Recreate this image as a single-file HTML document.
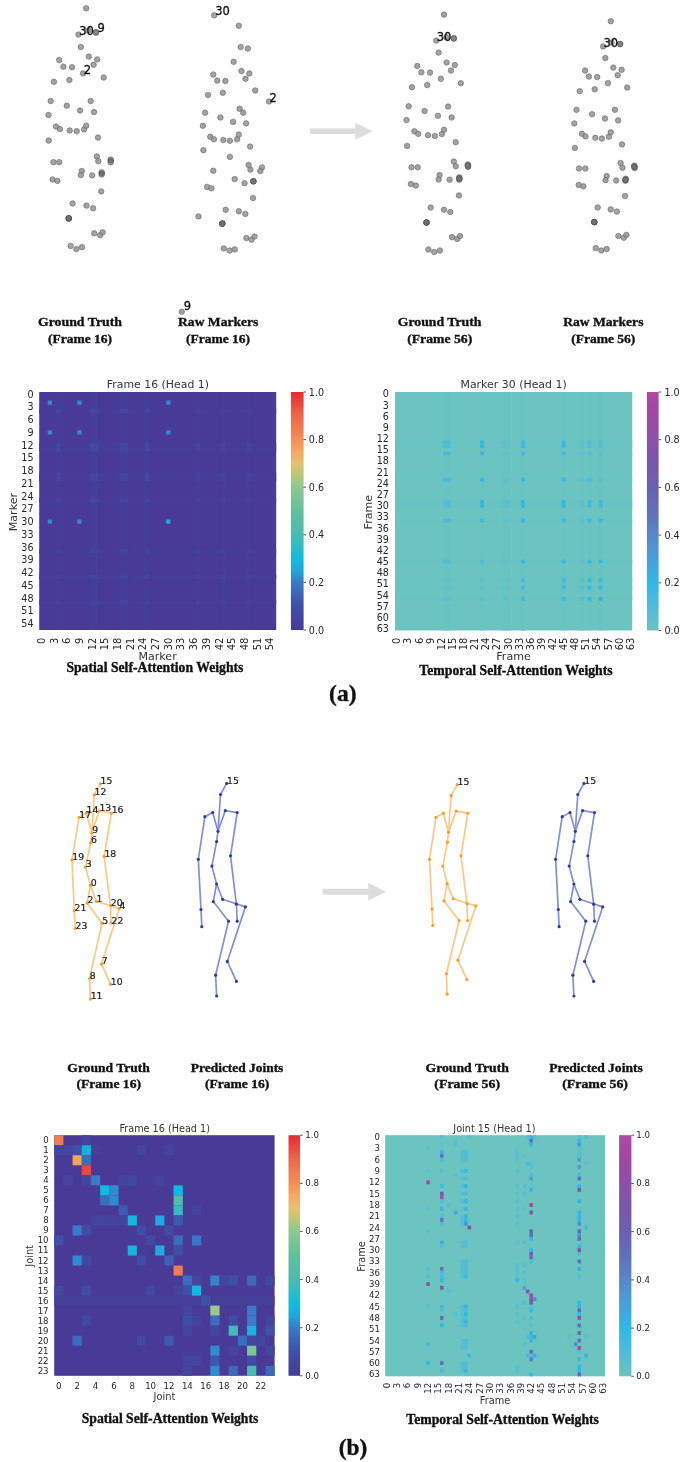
<!DOCTYPE html><html><head><meta charset="utf-8"><title>Figure</title><style>html,body{margin:0;padding:0;background:#fff;}svg{display:block;}</style></head><body>
<svg width="685" height="1462" viewBox="0 0 685 1462">
<defs><linearGradient id="g1" x1="0" y1="1" x2="0" y2="0"><stop offset="0" stop-color="#483a96"/><stop offset="0.1" stop-color="#3e50a8"/><stop offset="0.2" stop-color="#3a7ac6"/><stop offset="0.25" stop-color="#1fa8dc"/><stop offset="0.3" stop-color="#10bce0"/><stop offset="0.35" stop-color="#30bcc8"/><stop offset="0.4" stop-color="#48bcb0"/><stop offset="0.5" stop-color="#62c09e"/><stop offset="0.6" stop-color="#8cc890"/><stop offset="0.65" stop-color="#b8c878"/><stop offset="0.7" stop-color="#e6c070"/><stop offset="0.75" stop-color="#f4a860"/><stop offset="0.8" stop-color="#f29058"/><stop offset="0.9" stop-color="#ec6848"/><stop offset="1" stop-color="#e82a32"/></linearGradient><linearGradient id="g2" x1="0" y1="1" x2="0" y2="0"><stop offset="0" stop-color="#6cc4c0"/><stop offset="0.1" stop-color="#50bcd8"/><stop offset="0.2" stop-color="#30b8e8"/><stop offset="0.3" stop-color="#48a0d8"/><stop offset="0.4" stop-color="#5888c8"/><stop offset="0.5" stop-color="#6070b8"/><stop offset="0.6" stop-color="#6a60b0"/><stop offset="0.7" stop-color="#7858a8"/><stop offset="0.8" stop-color="#8c50a8"/><stop offset="0.9" stop-color="#a048a0"/><stop offset="1" stop-color="#b048a0"/></linearGradient></defs>
<rect width="685" height="1462" fill="#fff"/>
<circle cx="86.2" cy="8.3" r="2.75" fill="#939393" fill-opacity="0.85" stroke="#646464" stroke-opacity="0.75" stroke-width="0.8"/>
<circle cx="78.5" cy="34.6" r="2.75" fill="#939393" fill-opacity="0.85" stroke="#646464" stroke-opacity="0.75" stroke-width="0.8"/>
<circle cx="88.4" cy="30.6" r="2.75" fill="#939393" fill-opacity="0.85" stroke="#646464" stroke-opacity="0.75" stroke-width="0.8"/>
<circle cx="80.8" cy="47" r="2.75" fill="#939393" fill-opacity="0.85" stroke="#646464" stroke-opacity="0.75" stroke-width="0.8"/>
<circle cx="88.8" cy="56.6" r="2.75" fill="#939393" fill-opacity="0.85" stroke="#646464" stroke-opacity="0.75" stroke-width="0.8"/>
<circle cx="97.2" cy="59.4" r="2.75" fill="#939393" fill-opacity="0.85" stroke="#646464" stroke-opacity="0.75" stroke-width="0.8"/>
<circle cx="59.2" cy="60.1" r="2.75" fill="#939393" fill-opacity="0.85" stroke="#646464" stroke-opacity="0.75" stroke-width="0.8"/>
<circle cx="93.6" cy="64.8" r="2.75" fill="#939393" fill-opacity="0.85" stroke="#646464" stroke-opacity="0.75" stroke-width="0.8"/>
<circle cx="63.4" cy="66.7" r="2.75" fill="#939393" fill-opacity="0.85" stroke="#646464" stroke-opacity="0.75" stroke-width="0.8"/>
<circle cx="72" cy="67.2" r="2.75" fill="#939393" fill-opacity="0.85" stroke="#646464" stroke-opacity="0.75" stroke-width="0.8"/>
<circle cx="83" cy="73.4" r="2.75" fill="#939393" fill-opacity="0.85" stroke="#646464" stroke-opacity="0.75" stroke-width="0.8"/>
<circle cx="103.7" cy="77.5" r="2.75" fill="#939393" fill-opacity="0.85" stroke="#646464" stroke-opacity="0.75" stroke-width="0.8"/>
<circle cx="53.9" cy="81.8" r="2.75" fill="#939393" fill-opacity="0.85" stroke="#646464" stroke-opacity="0.75" stroke-width="0.8"/>
<circle cx="69.4" cy="80" r="2.75" fill="#939393" fill-opacity="0.85" stroke="#646464" stroke-opacity="0.75" stroke-width="0.8"/>
<circle cx="50.7" cy="101" r="2.75" fill="#939393" fill-opacity="0.85" stroke="#646464" stroke-opacity="0.75" stroke-width="0.8"/>
<circle cx="66.8" cy="105.7" r="2.75" fill="#939393" fill-opacity="0.85" stroke="#646464" stroke-opacity="0.75" stroke-width="0.8"/>
<circle cx="90.7" cy="101" r="2.75" fill="#939393" fill-opacity="0.85" stroke="#646464" stroke-opacity="0.75" stroke-width="0.8"/>
<circle cx="80.1" cy="110.5" r="2.75" fill="#939393" fill-opacity="0.85" stroke="#646464" stroke-opacity="0.75" stroke-width="0.8"/>
<circle cx="94" cy="112.1" r="2.75" fill="#939393" fill-opacity="0.85" stroke="#646464" stroke-opacity="0.75" stroke-width="0.8"/>
<circle cx="48.5" cy="115" r="2.75" fill="#939393" fill-opacity="0.85" stroke="#646464" stroke-opacity="0.75" stroke-width="0.8"/>
<circle cx="56" cy="126.5" r="2.75" fill="#939393" fill-opacity="0.85" stroke="#646464" stroke-opacity="0.75" stroke-width="0.8"/>
<circle cx="59.9" cy="129.1" r="2.75" fill="#939393" fill-opacity="0.85" stroke="#646464" stroke-opacity="0.75" stroke-width="0.8"/>
<circle cx="69.7" cy="130.5" r="2.75" fill="#939393" fill-opacity="0.85" stroke="#646464" stroke-opacity="0.75" stroke-width="0.8"/>
<circle cx="76.7" cy="131.1" r="2.75" fill="#939393" fill-opacity="0.85" stroke="#646464" stroke-opacity="0.75" stroke-width="0.8"/>
<circle cx="84" cy="129.4" r="2.75" fill="#939393" fill-opacity="0.85" stroke="#646464" stroke-opacity="0.75" stroke-width="0.8"/>
<circle cx="86.2" cy="125.7" r="2.75" fill="#939393" fill-opacity="0.85" stroke="#646464" stroke-opacity="0.75" stroke-width="0.8"/>
<circle cx="48.7" cy="140.6" r="2.75" fill="#939393" fill-opacity="0.85" stroke="#646464" stroke-opacity="0.75" stroke-width="0.8"/>
<circle cx="98" cy="137.6" r="2.75" fill="#939393" fill-opacity="0.85" stroke="#646464" stroke-opacity="0.75" stroke-width="0.8"/>
<circle cx="96.9" cy="156.4" r="2.75" fill="#939393" fill-opacity="0.85" stroke="#646464" stroke-opacity="0.75" stroke-width="0.8"/>
<circle cx="98.3" cy="161.2" r="2.75" fill="#939393" fill-opacity="0.85" stroke="#646464" stroke-opacity="0.75" stroke-width="0.8"/>
<circle cx="110.7" cy="160.5" r="2.75" fill="#939393" fill-opacity="0.85" stroke="#646464" stroke-opacity="0.75" stroke-width="0.8"/>
<circle cx="53.4" cy="162.2" r="2.75" fill="#939393" fill-opacity="0.85" stroke="#646464" stroke-opacity="0.75" stroke-width="0.8"/>
<circle cx="59.2" cy="162.2" r="2.75" fill="#939393" fill-opacity="0.85" stroke="#646464" stroke-opacity="0.75" stroke-width="0.8"/>
<circle cx="81.8" cy="171" r="2.75" fill="#939393" fill-opacity="0.85" stroke="#646464" stroke-opacity="0.75" stroke-width="0.8"/>
<circle cx="80.8" cy="175.1" r="2.75" fill="#939393" fill-opacity="0.85" stroke="#646464" stroke-opacity="0.75" stroke-width="0.8"/>
<circle cx="92.2" cy="175.4" r="2.75" fill="#939393" fill-opacity="0.85" stroke="#646464" stroke-opacity="0.75" stroke-width="0.8"/>
<circle cx="101.7" cy="173.2" r="2.75" fill="#939393" fill-opacity="0.85" stroke="#646464" stroke-opacity="0.75" stroke-width="0.8"/>
<circle cx="52.6" cy="179.5" r="2.75" fill="#939393" fill-opacity="0.85" stroke="#646464" stroke-opacity="0.75" stroke-width="0.8"/>
<circle cx="57.4" cy="180.9" r="2.75" fill="#939393" fill-opacity="0.85" stroke="#646464" stroke-opacity="0.75" stroke-width="0.8"/>
<circle cx="101.2" cy="191.4" r="2.75" fill="#939393" fill-opacity="0.85" stroke="#646464" stroke-opacity="0.75" stroke-width="0.8"/>
<circle cx="72.6" cy="203.5" r="2.75" fill="#939393" fill-opacity="0.85" stroke="#646464" stroke-opacity="0.75" stroke-width="0.8"/>
<circle cx="86.5" cy="205.6" r="2.75" fill="#939393" fill-opacity="0.85" stroke="#646464" stroke-opacity="0.75" stroke-width="0.8"/>
<circle cx="93.1" cy="208.2" r="2.75" fill="#939393" fill-opacity="0.85" stroke="#646464" stroke-opacity="0.75" stroke-width="0.8"/>
<circle cx="68.7" cy="218.4" r="2.75" fill="#939393" fill-opacity="0.85" stroke="#646464" stroke-opacity="0.75" stroke-width="0.8"/>
<circle cx="94.2" cy="233.3" r="2.75" fill="#939393" fill-opacity="0.85" stroke="#646464" stroke-opacity="0.75" stroke-width="0.8"/>
<circle cx="100.1" cy="235.2" r="2.75" fill="#939393" fill-opacity="0.85" stroke="#646464" stroke-opacity="0.75" stroke-width="0.8"/>
<circle cx="102.7" cy="232.3" r="2.75" fill="#939393" fill-opacity="0.85" stroke="#646464" stroke-opacity="0.75" stroke-width="0.8"/>
<circle cx="70.6" cy="245.9" r="2.75" fill="#939393" fill-opacity="0.85" stroke="#646464" stroke-opacity="0.75" stroke-width="0.8"/>
<circle cx="76.4" cy="249.1" r="2.75" fill="#939393" fill-opacity="0.85" stroke="#646464" stroke-opacity="0.75" stroke-width="0.8"/>
<circle cx="82" cy="247.2" r="2.75" fill="#939393" fill-opacity="0.85" stroke="#646464" stroke-opacity="0.75" stroke-width="0.8"/>
<circle cx="96" cy="32.4" r="2.85" fill="#6e6e6e" fill-opacity="0.6" stroke="#444" stroke-opacity="0.6" stroke-width="0.7"/>
<circle cx="96" cy="32.4" r="2.85" fill="#6e6e6e" fill-opacity="0.6" stroke="#444" stroke-opacity="0.6" stroke-width="0.7"/>
<circle cx="110.7" cy="159.6" r="2.85" fill="#6e6e6e" fill-opacity="0.6" stroke="#444" stroke-opacity="0.6" stroke-width="0.7"/>
<circle cx="110.7" cy="162.2" r="2.85" fill="#6e6e6e" fill-opacity="0.6" stroke="#444" stroke-opacity="0.6" stroke-width="0.7"/>
<circle cx="101.7" cy="172.3" r="2.85" fill="#6e6e6e" fill-opacity="0.6" stroke="#444" stroke-opacity="0.6" stroke-width="0.7"/>
<circle cx="101.7" cy="174.4" r="2.85" fill="#6e6e6e" fill-opacity="0.6" stroke="#444" stroke-opacity="0.6" stroke-width="0.7"/>
<circle cx="68.7" cy="218.4" r="2.85" fill="#6e6e6e" fill-opacity="0.6" stroke="#444" stroke-opacity="0.6" stroke-width="0.7"/>
<circle cx="68.7" cy="218.4" r="2.85" fill="#6e6e6e" fill-opacity="0.6" stroke="#444" stroke-opacity="0.6" stroke-width="0.7"/>
<circle cx="68.7" cy="218.4" r="2.85" fill="#6e6e6e" fill-opacity="0.6" stroke="#444" stroke-opacity="0.6" stroke-width="0.7"/>
<circle cx="214.2" cy="15.3" r="2.75" fill="#939393" fill-opacity="0.85" stroke="#646464" stroke-opacity="0.75" stroke-width="0.8"/>
<circle cx="238.8" cy="25.8" r="2.75" fill="#939393" fill-opacity="0.85" stroke="#646464" stroke-opacity="0.75" stroke-width="0.8"/>
<circle cx="240.7" cy="47" r="2.75" fill="#939393" fill-opacity="0.85" stroke="#646464" stroke-opacity="0.75" stroke-width="0.8"/>
<circle cx="247.9" cy="48.5" r="2.75" fill="#939393" fill-opacity="0.85" stroke="#646464" stroke-opacity="0.75" stroke-width="0.8"/>
<circle cx="233.6" cy="61.8" r="2.75" fill="#939393" fill-opacity="0.85" stroke="#646464" stroke-opacity="0.75" stroke-width="0.8"/>
<circle cx="241.5" cy="71" r="2.75" fill="#939393" fill-opacity="0.85" stroke="#646464" stroke-opacity="0.75" stroke-width="0.8"/>
<circle cx="249.3" cy="73.4" r="2.75" fill="#939393" fill-opacity="0.85" stroke="#646464" stroke-opacity="0.75" stroke-width="0.8"/>
<circle cx="245.5" cy="78.8" r="2.75" fill="#939393" fill-opacity="0.85" stroke="#646464" stroke-opacity="0.75" stroke-width="0.8"/>
<circle cx="213.3" cy="74.5" r="2.75" fill="#939393" fill-opacity="0.85" stroke="#646464" stroke-opacity="0.75" stroke-width="0.8"/>
<circle cx="217.2" cy="80.6" r="2.75" fill="#939393" fill-opacity="0.85" stroke="#646464" stroke-opacity="0.75" stroke-width="0.8"/>
<circle cx="225.4" cy="81" r="2.75" fill="#939393" fill-opacity="0.85" stroke="#646464" stroke-opacity="0.75" stroke-width="0.8"/>
<circle cx="255.2" cy="90.5" r="2.75" fill="#939393" fill-opacity="0.85" stroke="#646464" stroke-opacity="0.75" stroke-width="0.8"/>
<circle cx="208" cy="94.9" r="2.75" fill="#939393" fill-opacity="0.85" stroke="#646464" stroke-opacity="0.75" stroke-width="0.8"/>
<circle cx="222.8" cy="92.7" r="2.75" fill="#939393" fill-opacity="0.85" stroke="#646464" stroke-opacity="0.75" stroke-width="0.8"/>
<circle cx="269" cy="101.5" r="2.75" fill="#939393" fill-opacity="0.85" stroke="#646464" stroke-opacity="0.75" stroke-width="0.8"/>
<circle cx="239.6" cy="108.8" r="2.75" fill="#939393" fill-opacity="0.85" stroke="#646464" stroke-opacity="0.75" stroke-width="0.8"/>
<circle cx="243.2" cy="112.7" r="2.75" fill="#939393" fill-opacity="0.85" stroke="#646464" stroke-opacity="0.75" stroke-width="0.8"/>
<circle cx="205.1" cy="112.7" r="2.75" fill="#939393" fill-opacity="0.85" stroke="#646464" stroke-opacity="0.75" stroke-width="0.8"/>
<circle cx="220.4" cy="117.5" r="2.75" fill="#939393" fill-opacity="0.85" stroke="#646464" stroke-opacity="0.75" stroke-width="0.8"/>
<circle cx="233.1" cy="121.9" r="2.75" fill="#939393" fill-opacity="0.85" stroke="#646464" stroke-opacity="0.75" stroke-width="0.8"/>
<circle cx="246.1" cy="123.4" r="2.75" fill="#939393" fill-opacity="0.85" stroke="#646464" stroke-opacity="0.75" stroke-width="0.8"/>
<circle cx="202.9" cy="125.8" r="2.75" fill="#939393" fill-opacity="0.85" stroke="#646464" stroke-opacity="0.75" stroke-width="0.8"/>
<circle cx="210.2" cy="136.8" r="2.75" fill="#939393" fill-opacity="0.85" stroke="#646464" stroke-opacity="0.75" stroke-width="0.8"/>
<circle cx="213.9" cy="139.3" r="2.75" fill="#939393" fill-opacity="0.85" stroke="#646464" stroke-opacity="0.75" stroke-width="0.8"/>
<circle cx="223.4" cy="140.1" r="2.75" fill="#939393" fill-opacity="0.85" stroke="#646464" stroke-opacity="0.75" stroke-width="0.8"/>
<circle cx="229.9" cy="140.7" r="2.75" fill="#939393" fill-opacity="0.85" stroke="#646464" stroke-opacity="0.75" stroke-width="0.8"/>
<circle cx="237.1" cy="139.3" r="2.75" fill="#939393" fill-opacity="0.85" stroke="#646464" stroke-opacity="0.75" stroke-width="0.8"/>
<circle cx="238.8" cy="134.6" r="2.75" fill="#939393" fill-opacity="0.85" stroke="#646464" stroke-opacity="0.75" stroke-width="0.8"/>
<circle cx="203.4" cy="150.2" r="2.75" fill="#939393" fill-opacity="0.85" stroke="#646464" stroke-opacity="0.75" stroke-width="0.8"/>
<circle cx="250.1" cy="146.6" r="2.75" fill="#939393" fill-opacity="0.85" stroke="#646464" stroke-opacity="0.75" stroke-width="0.8"/>
<circle cx="229.9" cy="156.9" r="2.75" fill="#939393" fill-opacity="0.85" stroke="#646464" stroke-opacity="0.75" stroke-width="0.8"/>
<circle cx="248.6" cy="165" r="2.75" fill="#939393" fill-opacity="0.85" stroke="#646464" stroke-opacity="0.75" stroke-width="0.8"/>
<circle cx="250.4" cy="169.6" r="2.75" fill="#939393" fill-opacity="0.85" stroke="#646464" stroke-opacity="0.75" stroke-width="0.8"/>
<circle cx="262" cy="167.4" r="2.75" fill="#939393" fill-opacity="0.85" stroke="#646464" stroke-opacity="0.75" stroke-width="0.8"/>
<circle cx="260.3" cy="171.1" r="2.75" fill="#939393" fill-opacity="0.85" stroke="#646464" stroke-opacity="0.75" stroke-width="0.8"/>
<circle cx="213.3" cy="170.8" r="2.75" fill="#939393" fill-opacity="0.85" stroke="#646464" stroke-opacity="0.75" stroke-width="0.8"/>
<circle cx="234.7" cy="179.1" r="2.75" fill="#939393" fill-opacity="0.85" stroke="#646464" stroke-opacity="0.75" stroke-width="0.8"/>
<circle cx="244.5" cy="183.2" r="2.75" fill="#939393" fill-opacity="0.85" stroke="#646464" stroke-opacity="0.75" stroke-width="0.8"/>
<circle cx="253.4" cy="181.3" r="2.75" fill="#939393" fill-opacity="0.85" stroke="#646464" stroke-opacity="0.75" stroke-width="0.8"/>
<circle cx="207" cy="186.9" r="2.75" fill="#939393" fill-opacity="0.85" stroke="#646464" stroke-opacity="0.75" stroke-width="0.8"/>
<circle cx="211.4" cy="188.3" r="2.75" fill="#939393" fill-opacity="0.85" stroke="#646464" stroke-opacity="0.75" stroke-width="0.8"/>
<circle cx="253" cy="198.1" r="2.75" fill="#939393" fill-opacity="0.85" stroke="#646464" stroke-opacity="0.75" stroke-width="0.8"/>
<circle cx="225.7" cy="209.8" r="2.75" fill="#939393" fill-opacity="0.85" stroke="#646464" stroke-opacity="0.75" stroke-width="0.8"/>
<circle cx="238.8" cy="211.2" r="2.75" fill="#939393" fill-opacity="0.85" stroke="#646464" stroke-opacity="0.75" stroke-width="0.8"/>
<circle cx="245.3" cy="213.9" r="2.75" fill="#939393" fill-opacity="0.85" stroke="#646464" stroke-opacity="0.75" stroke-width="0.8"/>
<circle cx="198.5" cy="216.4" r="2.75" fill="#939393" fill-opacity="0.85" stroke="#646464" stroke-opacity="0.75" stroke-width="0.8"/>
<circle cx="222.3" cy="223.6" r="2.75" fill="#939393" fill-opacity="0.85" stroke="#646464" stroke-opacity="0.75" stroke-width="0.8"/>
<circle cx="246.4" cy="238" r="2.75" fill="#939393" fill-opacity="0.85" stroke="#646464" stroke-opacity="0.75" stroke-width="0.8"/>
<circle cx="251.5" cy="239.7" r="2.75" fill="#939393" fill-opacity="0.85" stroke="#646464" stroke-opacity="0.75" stroke-width="0.8"/>
<circle cx="254.5" cy="236.5" r="2.75" fill="#939393" fill-opacity="0.85" stroke="#646464" stroke-opacity="0.75" stroke-width="0.8"/>
<circle cx="223.8" cy="248.5" r="2.75" fill="#939393" fill-opacity="0.85" stroke="#646464" stroke-opacity="0.75" stroke-width="0.8"/>
<circle cx="229.6" cy="250.6" r="2.75" fill="#939393" fill-opacity="0.85" stroke="#646464" stroke-opacity="0.75" stroke-width="0.8"/>
<circle cx="234.7" cy="249.4" r="2.75" fill="#939393" fill-opacity="0.85" stroke="#646464" stroke-opacity="0.75" stroke-width="0.8"/>
<circle cx="181.7" cy="311.8" r="2.75" fill="#939393" fill-opacity="0.85" stroke="#646464" stroke-opacity="0.75" stroke-width="0.8"/>
<circle cx="253.4" cy="181.3" r="2.85" fill="#6e6e6e" fill-opacity="0.6" stroke="#444" stroke-opacity="0.6" stroke-width="0.7"/>
<circle cx="253.4" cy="181.3" r="2.85" fill="#6e6e6e" fill-opacity="0.6" stroke="#444" stroke-opacity="0.6" stroke-width="0.7"/>
<circle cx="222.3" cy="223.6" r="2.85" fill="#6e6e6e" fill-opacity="0.6" stroke="#444" stroke-opacity="0.6" stroke-width="0.7"/>
<circle cx="222.3" cy="223.6" r="2.85" fill="#6e6e6e" fill-opacity="0.6" stroke="#444" stroke-opacity="0.6" stroke-width="0.7"/>
<circle cx="222.3" cy="223.6" r="2.85" fill="#6e6e6e" fill-opacity="0.6" stroke="#444" stroke-opacity="0.6" stroke-width="0.7"/>
<circle cx="444" cy="14.6" r="2.75" fill="#939393" fill-opacity="0.85" stroke="#646464" stroke-opacity="0.75" stroke-width="0.8"/>
<circle cx="436.3" cy="40.6" r="2.75" fill="#939393" fill-opacity="0.85" stroke="#646464" stroke-opacity="0.75" stroke-width="0.8"/>
<circle cx="446.2" cy="37.2" r="2.75" fill="#939393" fill-opacity="0.85" stroke="#646464" stroke-opacity="0.75" stroke-width="0.8"/>
<circle cx="438.6" cy="52.6" r="2.75" fill="#939393" fill-opacity="0.85" stroke="#646464" stroke-opacity="0.75" stroke-width="0.8"/>
<circle cx="446.6" cy="62.5" r="2.75" fill="#939393" fill-opacity="0.85" stroke="#646464" stroke-opacity="0.75" stroke-width="0.8"/>
<circle cx="454.8" cy="65" r="2.75" fill="#939393" fill-opacity="0.85" stroke="#646464" stroke-opacity="0.75" stroke-width="0.8"/>
<circle cx="417.3" cy="66" r="2.75" fill="#939393" fill-opacity="0.85" stroke="#646464" stroke-opacity="0.75" stroke-width="0.8"/>
<circle cx="451" cy="70.5" r="2.75" fill="#939393" fill-opacity="0.85" stroke="#646464" stroke-opacity="0.75" stroke-width="0.8"/>
<circle cx="421.4" cy="72.3" r="2.75" fill="#939393" fill-opacity="0.85" stroke="#646464" stroke-opacity="0.75" stroke-width="0.8"/>
<circle cx="430" cy="72.6" r="2.75" fill="#939393" fill-opacity="0.85" stroke="#646464" stroke-opacity="0.75" stroke-width="0.8"/>
<circle cx="440.8" cy="78.8" r="2.75" fill="#939393" fill-opacity="0.85" stroke="#646464" stroke-opacity="0.75" stroke-width="0.8"/>
<circle cx="460.8" cy="83.2" r="2.75" fill="#939393" fill-opacity="0.85" stroke="#646464" stroke-opacity="0.75" stroke-width="0.8"/>
<circle cx="411.9" cy="87.3" r="2.75" fill="#939393" fill-opacity="0.85" stroke="#646464" stroke-opacity="0.75" stroke-width="0.8"/>
<circle cx="427.2" cy="85.1" r="2.75" fill="#939393" fill-opacity="0.85" stroke="#646464" stroke-opacity="0.75" stroke-width="0.8"/>
<circle cx="408.7" cy="106.3" r="2.75" fill="#939393" fill-opacity="0.85" stroke="#646464" stroke-opacity="0.75" stroke-width="0.8"/>
<circle cx="424.6" cy="111" r="2.75" fill="#939393" fill-opacity="0.85" stroke="#646464" stroke-opacity="0.75" stroke-width="0.8"/>
<circle cx="448.1" cy="106.6" r="2.75" fill="#939393" fill-opacity="0.85" stroke="#646464" stroke-opacity="0.75" stroke-width="0.8"/>
<circle cx="437.9" cy="115.8" r="2.75" fill="#939393" fill-opacity="0.85" stroke="#646464" stroke-opacity="0.75" stroke-width="0.8"/>
<circle cx="451.6" cy="117.5" r="2.75" fill="#939393" fill-opacity="0.85" stroke="#646464" stroke-opacity="0.75" stroke-width="0.8"/>
<circle cx="406.5" cy="120.1" r="2.75" fill="#939393" fill-opacity="0.85" stroke="#646464" stroke-opacity="0.75" stroke-width="0.8"/>
<circle cx="414.4" cy="131.3" r="2.75" fill="#939393" fill-opacity="0.85" stroke="#646464" stroke-opacity="0.75" stroke-width="0.8"/>
<circle cx="418.2" cy="133.8" r="2.75" fill="#939393" fill-opacity="0.85" stroke="#646464" stroke-opacity="0.75" stroke-width="0.8"/>
<circle cx="428" cy="135.2" r="2.75" fill="#939393" fill-opacity="0.85" stroke="#646464" stroke-opacity="0.75" stroke-width="0.8"/>
<circle cx="434.8" cy="136" r="2.75" fill="#939393" fill-opacity="0.85" stroke="#646464" stroke-opacity="0.75" stroke-width="0.8"/>
<circle cx="441.8" cy="134.1" r="2.75" fill="#939393" fill-opacity="0.85" stroke="#646464" stroke-opacity="0.75" stroke-width="0.8"/>
<circle cx="444" cy="129.8" r="2.75" fill="#939393" fill-opacity="0.85" stroke="#646464" stroke-opacity="0.75" stroke-width="0.8"/>
<circle cx="407.1" cy="145.9" r="2.75" fill="#939393" fill-opacity="0.85" stroke="#646464" stroke-opacity="0.75" stroke-width="0.8"/>
<circle cx="455.7" cy="142.2" r="2.75" fill="#939393" fill-opacity="0.85" stroke="#646464" stroke-opacity="0.75" stroke-width="0.8"/>
<circle cx="453.8" cy="161.5" r="2.75" fill="#939393" fill-opacity="0.85" stroke="#646464" stroke-opacity="0.75" stroke-width="0.8"/>
<circle cx="455.7" cy="166.3" r="2.75" fill="#939393" fill-opacity="0.85" stroke="#646464" stroke-opacity="0.75" stroke-width="0.8"/>
<circle cx="467.8" cy="164.4" r="2.75" fill="#939393" fill-opacity="0.85" stroke="#646464" stroke-opacity="0.75" stroke-width="0.8"/>
<circle cx="468.1" cy="166.9" r="2.75" fill="#939393" fill-opacity="0.85" stroke="#646464" stroke-opacity="0.75" stroke-width="0.8"/>
<circle cx="411.5" cy="167.3" r="2.75" fill="#939393" fill-opacity="0.85" stroke="#646464" stroke-opacity="0.75" stroke-width="0.8"/>
<circle cx="417.7" cy="167.3" r="2.75" fill="#939393" fill-opacity="0.85" stroke="#646464" stroke-opacity="0.75" stroke-width="0.8"/>
<circle cx="439.6" cy="175.1" r="2.75" fill="#939393" fill-opacity="0.85" stroke="#646464" stroke-opacity="0.75" stroke-width="0.8"/>
<circle cx="438.6" cy="179.5" r="2.75" fill="#939393" fill-opacity="0.85" stroke="#646464" stroke-opacity="0.75" stroke-width="0.8"/>
<circle cx="449.6" cy="179.7" r="2.75" fill="#939393" fill-opacity="0.85" stroke="#646464" stroke-opacity="0.75" stroke-width="0.8"/>
<circle cx="459.3" cy="177.3" r="2.75" fill="#939393" fill-opacity="0.85" stroke="#646464" stroke-opacity="0.75" stroke-width="0.8"/>
<circle cx="459.3" cy="179.7" r="2.75" fill="#939393" fill-opacity="0.85" stroke="#646464" stroke-opacity="0.75" stroke-width="0.8"/>
<circle cx="410.9" cy="184.1" r="2.75" fill="#939393" fill-opacity="0.85" stroke="#646464" stroke-opacity="0.75" stroke-width="0.8"/>
<circle cx="415.8" cy="185.6" r="2.75" fill="#939393" fill-opacity="0.85" stroke="#646464" stroke-opacity="0.75" stroke-width="0.8"/>
<circle cx="458.9" cy="195.5" r="2.75" fill="#939393" fill-opacity="0.85" stroke="#646464" stroke-opacity="0.75" stroke-width="0.8"/>
<circle cx="430.6" cy="207.6" r="2.75" fill="#939393" fill-opacity="0.85" stroke="#646464" stroke-opacity="0.75" stroke-width="0.8"/>
<circle cx="444" cy="209.7" r="2.75" fill="#939393" fill-opacity="0.85" stroke="#646464" stroke-opacity="0.75" stroke-width="0.8"/>
<circle cx="450.3" cy="212" r="2.75" fill="#939393" fill-opacity="0.85" stroke="#646464" stroke-opacity="0.75" stroke-width="0.8"/>
<circle cx="426.5" cy="222.5" r="2.75" fill="#939393" fill-opacity="0.85" stroke="#646464" stroke-opacity="0.75" stroke-width="0.8"/>
<circle cx="452" cy="237.1" r="2.75" fill="#939393" fill-opacity="0.85" stroke="#646464" stroke-opacity="0.75" stroke-width="0.8"/>
<circle cx="457.2" cy="238.9" r="2.75" fill="#939393" fill-opacity="0.85" stroke="#646464" stroke-opacity="0.75" stroke-width="0.8"/>
<circle cx="460.1" cy="236" r="2.75" fill="#939393" fill-opacity="0.85" stroke="#646464" stroke-opacity="0.75" stroke-width="0.8"/>
<circle cx="428.4" cy="249.5" r="2.75" fill="#939393" fill-opacity="0.85" stroke="#646464" stroke-opacity="0.75" stroke-width="0.8"/>
<circle cx="434.2" cy="252" r="2.75" fill="#939393" fill-opacity="0.85" stroke="#646464" stroke-opacity="0.75" stroke-width="0.8"/>
<circle cx="439.9" cy="250.5" r="2.75" fill="#939393" fill-opacity="0.85" stroke="#646464" stroke-opacity="0.75" stroke-width="0.8"/>
<circle cx="453.8" cy="38.4" r="2.85" fill="#6e6e6e" fill-opacity="0.6" stroke="#444" stroke-opacity="0.6" stroke-width="0.7"/>
<circle cx="453.8" cy="38.4" r="2.85" fill="#6e6e6e" fill-opacity="0.6" stroke="#444" stroke-opacity="0.6" stroke-width="0.7"/>
<circle cx="467.9" cy="165.6" r="2.85" fill="#6e6e6e" fill-opacity="0.6" stroke="#444" stroke-opacity="0.6" stroke-width="0.7"/>
<circle cx="467.9" cy="165.6" r="2.85" fill="#6e6e6e" fill-opacity="0.6" stroke="#444" stroke-opacity="0.6" stroke-width="0.7"/>
<circle cx="459.3" cy="178.5" r="2.85" fill="#6e6e6e" fill-opacity="0.6" stroke="#444" stroke-opacity="0.6" stroke-width="0.7"/>
<circle cx="459.3" cy="178.5" r="2.85" fill="#6e6e6e" fill-opacity="0.6" stroke="#444" stroke-opacity="0.6" stroke-width="0.7"/>
<circle cx="426.5" cy="222.5" r="2.85" fill="#6e6e6e" fill-opacity="0.6" stroke="#444" stroke-opacity="0.6" stroke-width="0.7"/>
<circle cx="426.5" cy="222.5" r="2.85" fill="#6e6e6e" fill-opacity="0.6" stroke="#444" stroke-opacity="0.6" stroke-width="0.7"/>
<circle cx="426.5" cy="222.5" r="2.85" fill="#6e6e6e" fill-opacity="0.6" stroke="#444" stroke-opacity="0.6" stroke-width="0.7"/>
<circle cx="610.8" cy="21.2" r="2.75" fill="#939393" fill-opacity="0.85" stroke="#646464" stroke-opacity="0.75" stroke-width="0.8"/>
<circle cx="603.1" cy="46.4" r="2.75" fill="#939393" fill-opacity="0.85" stroke="#646464" stroke-opacity="0.75" stroke-width="0.8"/>
<circle cx="611.5" cy="42.5" r="2.75" fill="#939393" fill-opacity="0.85" stroke="#646464" stroke-opacity="0.75" stroke-width="0.8"/>
<circle cx="605.3" cy="58" r="2.75" fill="#939393" fill-opacity="0.85" stroke="#646464" stroke-opacity="0.75" stroke-width="0.8"/>
<circle cx="613.3" cy="67.6" r="2.75" fill="#939393" fill-opacity="0.85" stroke="#646464" stroke-opacity="0.75" stroke-width="0.8"/>
<circle cx="621.6" cy="69.8" r="2.75" fill="#939393" fill-opacity="0.85" stroke="#646464" stroke-opacity="0.75" stroke-width="0.8"/>
<circle cx="585.1" cy="70.5" r="2.75" fill="#939393" fill-opacity="0.85" stroke="#646464" stroke-opacity="0.75" stroke-width="0.8"/>
<circle cx="617.7" cy="75.2" r="2.75" fill="#939393" fill-opacity="0.85" stroke="#646464" stroke-opacity="0.75" stroke-width="0.8"/>
<circle cx="588.9" cy="76.6" r="2.75" fill="#939393" fill-opacity="0.85" stroke="#646464" stroke-opacity="0.75" stroke-width="0.8"/>
<circle cx="597.2" cy="77.1" r="2.75" fill="#939393" fill-opacity="0.85" stroke="#646464" stroke-opacity="0.75" stroke-width="0.8"/>
<circle cx="607.9" cy="83.2" r="2.75" fill="#939393" fill-opacity="0.85" stroke="#646464" stroke-opacity="0.75" stroke-width="0.8"/>
<circle cx="627.2" cy="87.6" r="2.75" fill="#939393" fill-opacity="0.85" stroke="#646464" stroke-opacity="0.75" stroke-width="0.8"/>
<circle cx="579.7" cy="91.2" r="2.75" fill="#939393" fill-opacity="0.85" stroke="#646464" stroke-opacity="0.75" stroke-width="0.8"/>
<circle cx="594.7" cy="89.3" r="2.75" fill="#939393" fill-opacity="0.85" stroke="#646464" stroke-opacity="0.75" stroke-width="0.8"/>
<circle cx="576.5" cy="109.8" r="2.75" fill="#939393" fill-opacity="0.85" stroke="#646464" stroke-opacity="0.75" stroke-width="0.8"/>
<circle cx="592.1" cy="114.2" r="2.75" fill="#939393" fill-opacity="0.85" stroke="#646464" stroke-opacity="0.75" stroke-width="0.8"/>
<circle cx="614.9" cy="109.8" r="2.75" fill="#939393" fill-opacity="0.85" stroke="#646464" stroke-opacity="0.75" stroke-width="0.8"/>
<circle cx="605" cy="118.5" r="2.75" fill="#939393" fill-opacity="0.85" stroke="#646464" stroke-opacity="0.75" stroke-width="0.8"/>
<circle cx="618.1" cy="120.4" r="2.75" fill="#939393" fill-opacity="0.85" stroke="#646464" stroke-opacity="0.75" stroke-width="0.8"/>
<circle cx="574.3" cy="123.4" r="2.75" fill="#939393" fill-opacity="0.85" stroke="#646464" stroke-opacity="0.75" stroke-width="0.8"/>
<circle cx="581.9" cy="133.8" r="2.75" fill="#939393" fill-opacity="0.85" stroke="#646464" stroke-opacity="0.75" stroke-width="0.8"/>
<circle cx="585.5" cy="136.4" r="2.75" fill="#939393" fill-opacity="0.85" stroke="#646464" stroke-opacity="0.75" stroke-width="0.8"/>
<circle cx="595.3" cy="137.8" r="2.75" fill="#939393" fill-opacity="0.85" stroke="#646464" stroke-opacity="0.75" stroke-width="0.8"/>
<circle cx="601.9" cy="138.6" r="2.75" fill="#939393" fill-opacity="0.85" stroke="#646464" stroke-opacity="0.75" stroke-width="0.8"/>
<circle cx="608.9" cy="136.7" r="2.75" fill="#939393" fill-opacity="0.85" stroke="#646464" stroke-opacity="0.75" stroke-width="0.8"/>
<circle cx="610.8" cy="132.3" r="2.75" fill="#939393" fill-opacity="0.85" stroke="#646464" stroke-opacity="0.75" stroke-width="0.8"/>
<circle cx="574.9" cy="147.9" r="2.75" fill="#939393" fill-opacity="0.85" stroke="#646464" stroke-opacity="0.75" stroke-width="0.8"/>
<circle cx="622" cy="144.4" r="2.75" fill="#939393" fill-opacity="0.85" stroke="#646464" stroke-opacity="0.75" stroke-width="0.8"/>
<circle cx="620.6" cy="163" r="2.75" fill="#939393" fill-opacity="0.85" stroke="#646464" stroke-opacity="0.75" stroke-width="0.8"/>
<circle cx="622.5" cy="167.8" r="2.75" fill="#939393" fill-opacity="0.85" stroke="#646464" stroke-opacity="0.75" stroke-width="0.8"/>
<circle cx="634.2" cy="165.6" r="2.75" fill="#939393" fill-opacity="0.85" stroke="#646464" stroke-opacity="0.75" stroke-width="0.8"/>
<circle cx="634.7" cy="168.1" r="2.75" fill="#939393" fill-opacity="0.85" stroke="#646464" stroke-opacity="0.75" stroke-width="0.8"/>
<circle cx="579" cy="168.4" r="2.75" fill="#939393" fill-opacity="0.85" stroke="#646464" stroke-opacity="0.75" stroke-width="0.8"/>
<circle cx="585.3" cy="168.5" r="2.75" fill="#939393" fill-opacity="0.85" stroke="#646464" stroke-opacity="0.75" stroke-width="0.8"/>
<circle cx="606.7" cy="176.1" r="2.75" fill="#939393" fill-opacity="0.85" stroke="#646464" stroke-opacity="0.75" stroke-width="0.8"/>
<circle cx="605.5" cy="180.2" r="2.75" fill="#939393" fill-opacity="0.85" stroke="#646464" stroke-opacity="0.75" stroke-width="0.8"/>
<circle cx="616.2" cy="180.5" r="2.75" fill="#939393" fill-opacity="0.85" stroke="#646464" stroke-opacity="0.75" stroke-width="0.8"/>
<circle cx="625.7" cy="178.7" r="2.75" fill="#939393" fill-opacity="0.85" stroke="#646464" stroke-opacity="0.75" stroke-width="0.8"/>
<circle cx="625.4" cy="180.8" r="2.75" fill="#939393" fill-opacity="0.85" stroke="#646464" stroke-opacity="0.75" stroke-width="0.8"/>
<circle cx="578.7" cy="184.9" r="2.75" fill="#939393" fill-opacity="0.85" stroke="#646464" stroke-opacity="0.75" stroke-width="0.8"/>
<circle cx="583.4" cy="186.3" r="2.75" fill="#939393" fill-opacity="0.85" stroke="#646464" stroke-opacity="0.75" stroke-width="0.8"/>
<circle cx="625" cy="196.1" r="2.75" fill="#939393" fill-opacity="0.85" stroke="#646464" stroke-opacity="0.75" stroke-width="0.8"/>
<circle cx="597.7" cy="207.5" r="2.75" fill="#939393" fill-opacity="0.85" stroke="#646464" stroke-opacity="0.75" stroke-width="0.8"/>
<circle cx="610.7" cy="209.4" r="2.75" fill="#939393" fill-opacity="0.85" stroke="#646464" stroke-opacity="0.75" stroke-width="0.8"/>
<circle cx="616.9" cy="211.6" r="2.75" fill="#939393" fill-opacity="0.85" stroke="#646464" stroke-opacity="0.75" stroke-width="0.8"/>
<circle cx="594.3" cy="222.1" r="2.75" fill="#939393" fill-opacity="0.85" stroke="#646464" stroke-opacity="0.75" stroke-width="0.8"/>
<circle cx="618.4" cy="236" r="2.75" fill="#939393" fill-opacity="0.85" stroke="#646464" stroke-opacity="0.75" stroke-width="0.8"/>
<circle cx="623.8" cy="237.8" r="2.75" fill="#939393" fill-opacity="0.85" stroke="#646464" stroke-opacity="0.75" stroke-width="0.8"/>
<circle cx="626.4" cy="234.9" r="2.75" fill="#939393" fill-opacity="0.85" stroke="#646464" stroke-opacity="0.75" stroke-width="0.8"/>
<circle cx="595.8" cy="248.1" r="2.75" fill="#939393" fill-opacity="0.85" stroke="#646464" stroke-opacity="0.75" stroke-width="0.8"/>
<circle cx="601.3" cy="250.5" r="2.75" fill="#939393" fill-opacity="0.85" stroke="#646464" stroke-opacity="0.75" stroke-width="0.8"/>
<circle cx="606.7" cy="249.1" r="2.75" fill="#939393" fill-opacity="0.85" stroke="#646464" stroke-opacity="0.75" stroke-width="0.8"/>
<circle cx="620.1" cy="44.1" r="2.85" fill="#6e6e6e" fill-opacity="0.6" stroke="#444" stroke-opacity="0.6" stroke-width="0.7"/>
<circle cx="620.1" cy="44.1" r="2.85" fill="#6e6e6e" fill-opacity="0.6" stroke="#444" stroke-opacity="0.6" stroke-width="0.7"/>
<circle cx="634.4" cy="166.8" r="2.85" fill="#6e6e6e" fill-opacity="0.6" stroke="#444" stroke-opacity="0.6" stroke-width="0.7"/>
<circle cx="634.4" cy="166.8" r="2.85" fill="#6e6e6e" fill-opacity="0.6" stroke="#444" stroke-opacity="0.6" stroke-width="0.7"/>
<circle cx="625.5" cy="179.7" r="2.85" fill="#6e6e6e" fill-opacity="0.6" stroke="#444" stroke-opacity="0.6" stroke-width="0.7"/>
<circle cx="625.5" cy="179.7" r="2.85" fill="#6e6e6e" fill-opacity="0.6" stroke="#444" stroke-opacity="0.6" stroke-width="0.7"/>
<circle cx="594.3" cy="222.1" r="2.85" fill="#6e6e6e" fill-opacity="0.6" stroke="#444" stroke-opacity="0.6" stroke-width="0.7"/>
<circle cx="594.3" cy="222.1" r="2.85" fill="#6e6e6e" fill-opacity="0.6" stroke="#444" stroke-opacity="0.6" stroke-width="0.7"/>
<circle cx="594.3" cy="222.1" r="2.85" fill="#6e6e6e" fill-opacity="0.6" stroke="#444" stroke-opacity="0.6" stroke-width="0.7"/>
<text x="79.3" y="35.2" font-size="11.5" fill="#111" stroke="#111" stroke-width="0.3" font-family="'DejaVu Sans','Liberation Sans',sans-serif">30</text>
<text x="97.6" y="31.6" font-size="11.5" fill="#111" stroke="#111" stroke-width="0.3" font-family="'DejaVu Sans','Liberation Sans',sans-serif">9</text>
<text x="83.8" y="73.8" font-size="11.5" fill="#111" stroke="#111" stroke-width="0.3" font-family="'DejaVu Sans','Liberation Sans',sans-serif">2</text>
<text x="215.2" y="15.4" font-size="11.5" fill="#111" stroke="#111" stroke-width="0.3" font-family="'DejaVu Sans','Liberation Sans',sans-serif">30</text>
<text x="269.4" y="101.8" font-size="11.5" fill="#111" stroke="#111" stroke-width="0.3" font-family="'DejaVu Sans','Liberation Sans',sans-serif">2</text>
<text x="183.8" y="310.4" font-size="11.5" fill="#111" stroke="#111" stroke-width="0.3" font-family="'DejaVu Sans','Liberation Sans',sans-serif">9</text>
<text x="436.8" y="41" font-size="11.5" fill="#111" stroke="#111" stroke-width="0.3" font-family="'DejaVu Sans','Liberation Sans',sans-serif">30</text>
<text x="603.4" y="46.8" font-size="11.5" fill="#111" stroke="#111" stroke-width="0.3" font-family="'DejaVu Sans','Liberation Sans',sans-serif">30</text>
<polygon points="309.9,128.5 355.3,128.5 355.3,122.65 372.6,131.2 355.3,139.75 355.3,133.9 309.9,133.9" fill="#dcdcdc"/>
<text x="80" y="326.4" text-anchor="middle" font-size="12.8" font-family="'Liberation Serif','Times New Roman',serif" font-weight="bold" fill="#111" textLength="84" lengthAdjust="spacingAndGlyphs" stroke="#111" stroke-width="0.35">Ground Truth</text>
<text x="80" y="342.8" text-anchor="middle" font-size="12.8" font-family="'Liberation Serif','Times New Roman',serif" font-weight="bold" fill="#111" textLength="64" lengthAdjust="spacingAndGlyphs" stroke="#111" stroke-width="0.35">(Frame 16)</text>
<text x="218.2" y="326.4" text-anchor="middle" font-size="12.8" font-family="'Liberation Serif','Times New Roman',serif" font-weight="bold" fill="#111" textLength="80.3" lengthAdjust="spacingAndGlyphs" stroke="#111" stroke-width="0.35">Raw Markers</text>
<text x="218" y="342.8" text-anchor="middle" font-size="12.8" font-family="'Liberation Serif','Times New Roman',serif" font-weight="bold" fill="#111" textLength="64.2" lengthAdjust="spacingAndGlyphs" stroke="#111" stroke-width="0.35">(Frame 16)</text>
<text x="439.6" y="326.4" text-anchor="middle" font-size="12.8" font-family="'Liberation Serif','Times New Roman',serif" font-weight="bold" fill="#111" textLength="83.6" lengthAdjust="spacingAndGlyphs" stroke="#111" stroke-width="0.35">Ground Truth</text>
<text x="439.7" y="342.8" text-anchor="middle" font-size="12.8" font-family="'Liberation Serif','Times New Roman',serif" font-weight="bold" fill="#111" textLength="65.1" lengthAdjust="spacingAndGlyphs" stroke="#111" stroke-width="0.35">(Frame 56)</text>
<text x="603.3" y="326.4" text-anchor="middle" font-size="12.8" font-family="'Liberation Serif','Times New Roman',serif" font-weight="bold" fill="#111" textLength="80.3" lengthAdjust="spacingAndGlyphs" stroke="#111" stroke-width="0.35">Raw Markers</text>
<text x="603.3" y="342.8" text-anchor="middle" font-size="12.8" font-family="'Liberation Serif','Times New Roman',serif" font-weight="bold" fill="#111" textLength="64.2" lengthAdjust="spacingAndGlyphs" stroke="#111" stroke-width="0.35">(Frame 56)</text>
<rect x="39.2" y="392" width="237" height="238" fill="#483a96"/>
<rect x="56.13" y="392" width="4.23" height="238" fill="#463d99"/>
<rect x="89.99" y="392" width="4.23" height="238" fill="#463d99"/>
<rect x="94.22" y="392" width="4.23" height="238" fill="#463d99"/>
<rect x="119.61" y="392" width="4.23" height="238" fill="#463d99"/>
<rect x="123.84" y="392" width="4.23" height="238" fill="#463d99"/>
<rect x="145" y="392" width="4.23" height="238" fill="#463d99"/>
<rect x="195.79" y="392" width="4.23" height="238" fill="#463d99"/>
<rect x="221.18" y="392" width="4.23" height="238" fill="#463d99"/>
<rect x="246.57" y="392" width="4.23" height="238" fill="#463d99"/>
<rect x="39.2" y="409" width="237" height="4.25" fill="#473c98"/>
<rect x="39.2" y="443" width="237" height="4.25" fill="#473c98"/>
<rect x="39.2" y="447.25" width="237" height="4.25" fill="#473c98"/>
<rect x="39.2" y="472.75" width="237" height="4.25" fill="#473c98"/>
<rect x="39.2" y="477" width="237" height="4.25" fill="#473c98"/>
<rect x="39.2" y="498.25" width="237" height="4.25" fill="#473c98"/>
<rect x="39.2" y="549.25" width="237" height="4.25" fill="#473c98"/>
<rect x="39.2" y="574.75" width="237" height="4.25" fill="#473c98"/>
<rect x="39.2" y="600.25" width="237" height="4.25" fill="#473c98"/>
<rect x="47.66" y="400.5" width="4.28" height="4.3" fill="#2f8ccf"/>
<rect x="77.29" y="400.5" width="4.28" height="4.3" fill="#2f8ccf"/>
<rect x="166.16" y="400.5" width="4.28" height="4.3" fill="#2f8ccf"/>
<rect x="47.66" y="430.25" width="4.28" height="4.3" fill="#2f8ccf"/>
<rect x="77.29" y="430.25" width="4.28" height="4.3" fill="#2f8ccf"/>
<rect x="166.16" y="430.25" width="4.28" height="4.3" fill="#2f8ccf"/>
<rect x="47.66" y="519.5" width="4.28" height="4.3" fill="#2f8ccf"/>
<rect x="77.29" y="519.5" width="4.28" height="4.3" fill="#2f8ccf"/>
<rect x="166.16" y="519.5" width="4.28" height="4.3" fill="#1cacdd"/>
<rect x="56.13" y="409" width="4.28" height="4.3" fill="#4247a1"/>
<rect x="89.99" y="409" width="4.28" height="4.3" fill="#4247a1"/>
<rect x="94.22" y="409" width="4.28" height="4.3" fill="#4247a1"/>
<rect x="119.61" y="409" width="4.28" height="4.3" fill="#4247a1"/>
<rect x="123.84" y="409" width="4.28" height="4.3" fill="#4247a1"/>
<rect x="145" y="409" width="4.28" height="4.3" fill="#4247a1"/>
<rect x="195.79" y="409" width="4.28" height="4.3" fill="#44449e"/>
<rect x="221.18" y="409" width="4.28" height="4.3" fill="#44449e"/>
<rect x="246.57" y="409" width="4.28" height="4.3" fill="#44449e"/>
<rect x="56.13" y="443" width="4.28" height="4.3" fill="#4247a1"/>
<rect x="89.99" y="443" width="4.28" height="4.3" fill="#4247a1"/>
<rect x="94.22" y="443" width="4.28" height="4.3" fill="#4247a1"/>
<rect x="119.61" y="443" width="4.28" height="4.3" fill="#4247a1"/>
<rect x="123.84" y="443" width="4.28" height="4.3" fill="#4247a1"/>
<rect x="145" y="443" width="4.28" height="4.3" fill="#4247a1"/>
<rect x="195.79" y="443" width="4.28" height="4.3" fill="#44449e"/>
<rect x="221.18" y="443" width="4.28" height="4.3" fill="#44449e"/>
<rect x="246.57" y="443" width="4.28" height="4.3" fill="#44449e"/>
<rect x="56.13" y="447.25" width="4.28" height="4.3" fill="#4247a1"/>
<rect x="89.99" y="447.25" width="4.28" height="4.3" fill="#4247a1"/>
<rect x="94.22" y="447.25" width="4.28" height="4.3" fill="#4247a1"/>
<rect x="119.61" y="447.25" width="4.28" height="4.3" fill="#4247a1"/>
<rect x="123.84" y="447.25" width="4.28" height="4.3" fill="#4247a1"/>
<rect x="145" y="447.25" width="4.28" height="4.3" fill="#4247a1"/>
<rect x="195.79" y="447.25" width="4.28" height="4.3" fill="#44449e"/>
<rect x="221.18" y="447.25" width="4.28" height="4.3" fill="#44449e"/>
<rect x="246.57" y="447.25" width="4.28" height="4.3" fill="#44449e"/>
<rect x="56.13" y="472.75" width="4.28" height="4.3" fill="#4247a1"/>
<rect x="89.99" y="472.75" width="4.28" height="4.3" fill="#4247a1"/>
<rect x="94.22" y="472.75" width="4.28" height="4.3" fill="#4247a1"/>
<rect x="119.61" y="472.75" width="4.28" height="4.3" fill="#4247a1"/>
<rect x="123.84" y="472.75" width="4.28" height="4.3" fill="#4247a1"/>
<rect x="145" y="472.75" width="4.28" height="4.3" fill="#4247a1"/>
<rect x="195.79" y="472.75" width="4.28" height="4.3" fill="#44449e"/>
<rect x="221.18" y="472.75" width="4.28" height="4.3" fill="#44449e"/>
<rect x="246.57" y="472.75" width="4.28" height="4.3" fill="#44449e"/>
<rect x="56.13" y="477" width="4.28" height="4.3" fill="#4247a1"/>
<rect x="89.99" y="477" width="4.28" height="4.3" fill="#4247a1"/>
<rect x="94.22" y="477" width="4.28" height="4.3" fill="#4247a1"/>
<rect x="119.61" y="477" width="4.28" height="4.3" fill="#4247a1"/>
<rect x="123.84" y="477" width="4.28" height="4.3" fill="#4247a1"/>
<rect x="145" y="477" width="4.28" height="4.3" fill="#4247a1"/>
<rect x="195.79" y="477" width="4.28" height="4.3" fill="#44449e"/>
<rect x="221.18" y="477" width="4.28" height="4.3" fill="#44449e"/>
<rect x="246.57" y="477" width="4.28" height="4.3" fill="#44449e"/>
<rect x="56.13" y="498.25" width="4.28" height="4.3" fill="#4247a1"/>
<rect x="89.99" y="498.25" width="4.28" height="4.3" fill="#4247a1"/>
<rect x="94.22" y="498.25" width="4.28" height="4.3" fill="#4247a1"/>
<rect x="119.61" y="498.25" width="4.28" height="4.3" fill="#4247a1"/>
<rect x="123.84" y="498.25" width="4.28" height="4.3" fill="#4247a1"/>
<rect x="145" y="498.25" width="4.28" height="4.3" fill="#4247a1"/>
<rect x="195.79" y="498.25" width="4.28" height="4.3" fill="#44449e"/>
<rect x="221.18" y="498.25" width="4.28" height="4.3" fill="#44449e"/>
<rect x="246.57" y="498.25" width="4.28" height="4.3" fill="#44449e"/>
<rect x="56.13" y="549.25" width="4.28" height="4.3" fill="#44449e"/>
<rect x="89.99" y="549.25" width="4.28" height="4.3" fill="#44449e"/>
<rect x="94.22" y="549.25" width="4.28" height="4.3" fill="#44449e"/>
<rect x="119.61" y="549.25" width="4.28" height="4.3" fill="#44449e"/>
<rect x="123.84" y="549.25" width="4.28" height="4.3" fill="#44449e"/>
<rect x="145" y="549.25" width="4.28" height="4.3" fill="#44449e"/>
<rect x="195.79" y="549.25" width="4.28" height="4.3" fill="#44449e"/>
<rect x="221.18" y="549.25" width="4.28" height="4.3" fill="#44449e"/>
<rect x="246.57" y="549.25" width="4.28" height="4.3" fill="#44449e"/>
<rect x="56.13" y="574.75" width="4.28" height="4.3" fill="#44449e"/>
<rect x="89.99" y="574.75" width="4.28" height="4.3" fill="#44449e"/>
<rect x="94.22" y="574.75" width="4.28" height="4.3" fill="#44449e"/>
<rect x="119.61" y="574.75" width="4.28" height="4.3" fill="#44449e"/>
<rect x="123.84" y="574.75" width="4.28" height="4.3" fill="#44449e"/>
<rect x="145" y="574.75" width="4.28" height="4.3" fill="#44449e"/>
<rect x="195.79" y="574.75" width="4.28" height="4.3" fill="#44449e"/>
<rect x="221.18" y="574.75" width="4.28" height="4.3" fill="#44449e"/>
<rect x="246.57" y="574.75" width="4.28" height="4.3" fill="#44449e"/>
<rect x="56.13" y="600.25" width="4.28" height="4.3" fill="#44449e"/>
<rect x="89.99" y="600.25" width="4.28" height="4.3" fill="#44449e"/>
<rect x="94.22" y="600.25" width="4.28" height="4.3" fill="#44449e"/>
<rect x="119.61" y="600.25" width="4.28" height="4.3" fill="#44449e"/>
<rect x="123.84" y="600.25" width="4.28" height="4.3" fill="#44449e"/>
<rect x="145" y="600.25" width="4.28" height="4.3" fill="#44449e"/>
<rect x="195.79" y="600.25" width="4.28" height="4.3" fill="#44449e"/>
<rect x="221.18" y="600.25" width="4.28" height="4.3" fill="#44449e"/>
<rect x="246.57" y="600.25" width="4.28" height="4.3" fill="#44449e"/>
<text x="33.5" y="394.12" text-anchor="end" font-size="9.6" fill="#262626" font-family="'DejaVu Sans','Liberation Sans',sans-serif" dominant-baseline="central">0</text>
<text x="33.5" y="406.88" text-anchor="end" font-size="9.6" fill="#262626" font-family="'DejaVu Sans','Liberation Sans',sans-serif" dominant-baseline="central">3</text>
<text x="33.5" y="419.62" text-anchor="end" font-size="9.6" fill="#262626" font-family="'DejaVu Sans','Liberation Sans',sans-serif" dominant-baseline="central">6</text>
<text x="33.5" y="432.38" text-anchor="end" font-size="9.6" fill="#262626" font-family="'DejaVu Sans','Liberation Sans',sans-serif" dominant-baseline="central">9</text>
<text x="33.5" y="445.12" text-anchor="end" font-size="9.6" fill="#262626" font-family="'DejaVu Sans','Liberation Sans',sans-serif" dominant-baseline="central">12</text>
<text x="33.5" y="457.88" text-anchor="end" font-size="9.6" fill="#262626" font-family="'DejaVu Sans','Liberation Sans',sans-serif" dominant-baseline="central">15</text>
<text x="33.5" y="470.62" text-anchor="end" font-size="9.6" fill="#262626" font-family="'DejaVu Sans','Liberation Sans',sans-serif" dominant-baseline="central">18</text>
<text x="33.5" y="483.38" text-anchor="end" font-size="9.6" fill="#262626" font-family="'DejaVu Sans','Liberation Sans',sans-serif" dominant-baseline="central">21</text>
<text x="33.5" y="496.12" text-anchor="end" font-size="9.6" fill="#262626" font-family="'DejaVu Sans','Liberation Sans',sans-serif" dominant-baseline="central">24</text>
<text x="33.5" y="508.88" text-anchor="end" font-size="9.6" fill="#262626" font-family="'DejaVu Sans','Liberation Sans',sans-serif" dominant-baseline="central">27</text>
<text x="33.5" y="521.62" text-anchor="end" font-size="9.6" fill="#262626" font-family="'DejaVu Sans','Liberation Sans',sans-serif" dominant-baseline="central">30</text>
<text x="33.5" y="534.38" text-anchor="end" font-size="9.6" fill="#262626" font-family="'DejaVu Sans','Liberation Sans',sans-serif" dominant-baseline="central">33</text>
<text x="33.5" y="547.12" text-anchor="end" font-size="9.6" fill="#262626" font-family="'DejaVu Sans','Liberation Sans',sans-serif" dominant-baseline="central">36</text>
<text x="33.5" y="559.88" text-anchor="end" font-size="9.6" fill="#262626" font-family="'DejaVu Sans','Liberation Sans',sans-serif" dominant-baseline="central">39</text>
<text x="33.5" y="572.62" text-anchor="end" font-size="9.6" fill="#262626" font-family="'DejaVu Sans','Liberation Sans',sans-serif" dominant-baseline="central">42</text>
<text x="33.5" y="585.38" text-anchor="end" font-size="9.6" fill="#262626" font-family="'DejaVu Sans','Liberation Sans',sans-serif" dominant-baseline="central">45</text>
<text x="33.5" y="598.12" text-anchor="end" font-size="9.6" fill="#262626" font-family="'DejaVu Sans','Liberation Sans',sans-serif" dominant-baseline="central">48</text>
<text x="33.5" y="610.88" text-anchor="end" font-size="9.6" fill="#262626" font-family="'DejaVu Sans','Liberation Sans',sans-serif" dominant-baseline="central">51</text>
<text x="33.5" y="623.62" text-anchor="end" font-size="9.6" fill="#262626" font-family="'DejaVu Sans','Liberation Sans',sans-serif" dominant-baseline="central">54</text>
<text transform="translate(41.32 637.6) rotate(-90)" text-anchor="end" font-size="9.9" fill="#262626" font-family="'DejaVu Sans','Liberation Sans',sans-serif" dominant-baseline="central">0</text>
<text transform="translate(54.01 637.6) rotate(-90)" text-anchor="end" font-size="9.9" fill="#262626" font-family="'DejaVu Sans','Liberation Sans',sans-serif" dominant-baseline="central">3</text>
<text transform="translate(66.71 637.6) rotate(-90)" text-anchor="end" font-size="9.9" fill="#262626" font-family="'DejaVu Sans','Liberation Sans',sans-serif" dominant-baseline="central">6</text>
<text transform="translate(79.41 637.6) rotate(-90)" text-anchor="end" font-size="9.9" fill="#262626" font-family="'DejaVu Sans','Liberation Sans',sans-serif" dominant-baseline="central">9</text>
<text transform="translate(92.1 637.6) rotate(-90)" text-anchor="end" font-size="9.9" fill="#262626" font-family="'DejaVu Sans','Liberation Sans',sans-serif" dominant-baseline="central">12</text>
<text transform="translate(104.8 637.6) rotate(-90)" text-anchor="end" font-size="9.9" fill="#262626" font-family="'DejaVu Sans','Liberation Sans',sans-serif" dominant-baseline="central">15</text>
<text transform="translate(117.49 637.6) rotate(-90)" text-anchor="end" font-size="9.9" fill="#262626" font-family="'DejaVu Sans','Liberation Sans',sans-serif" dominant-baseline="central">18</text>
<text transform="translate(130.19 637.6) rotate(-90)" text-anchor="end" font-size="9.9" fill="#262626" font-family="'DejaVu Sans','Liberation Sans',sans-serif" dominant-baseline="central">21</text>
<text transform="translate(142.89 637.6) rotate(-90)" text-anchor="end" font-size="9.9" fill="#262626" font-family="'DejaVu Sans','Liberation Sans',sans-serif" dominant-baseline="central">24</text>
<text transform="translate(155.58 637.6) rotate(-90)" text-anchor="end" font-size="9.9" fill="#262626" font-family="'DejaVu Sans','Liberation Sans',sans-serif" dominant-baseline="central">27</text>
<text transform="translate(168.28 637.6) rotate(-90)" text-anchor="end" font-size="9.9" fill="#262626" font-family="'DejaVu Sans','Liberation Sans',sans-serif" dominant-baseline="central">30</text>
<text transform="translate(180.98 637.6) rotate(-90)" text-anchor="end" font-size="9.9" fill="#262626" font-family="'DejaVu Sans','Liberation Sans',sans-serif" dominant-baseline="central">33</text>
<text transform="translate(193.67 637.6) rotate(-90)" text-anchor="end" font-size="9.9" fill="#262626" font-family="'DejaVu Sans','Liberation Sans',sans-serif" dominant-baseline="central">36</text>
<text transform="translate(206.37 637.6) rotate(-90)" text-anchor="end" font-size="9.9" fill="#262626" font-family="'DejaVu Sans','Liberation Sans',sans-serif" dominant-baseline="central">39</text>
<text transform="translate(219.07 637.6) rotate(-90)" text-anchor="end" font-size="9.9" fill="#262626" font-family="'DejaVu Sans','Liberation Sans',sans-serif" dominant-baseline="central">42</text>
<text transform="translate(231.76 637.6) rotate(-90)" text-anchor="end" font-size="9.9" fill="#262626" font-family="'DejaVu Sans','Liberation Sans',sans-serif" dominant-baseline="central">45</text>
<text transform="translate(244.46 637.6) rotate(-90)" text-anchor="end" font-size="9.9" fill="#262626" font-family="'DejaVu Sans','Liberation Sans',sans-serif" dominant-baseline="central">48</text>
<text transform="translate(257.16 637.6) rotate(-90)" text-anchor="end" font-size="9.9" fill="#262626" font-family="'DejaVu Sans','Liberation Sans',sans-serif" dominant-baseline="central">51</text>
<text transform="translate(269.85 637.6) rotate(-90)" text-anchor="end" font-size="9.9" fill="#262626" font-family="'DejaVu Sans','Liberation Sans',sans-serif" dominant-baseline="central">54</text>
<text x="157.6" y="659.8" text-anchor="middle" font-size="11.1" font-family="'DejaVu Sans','Liberation Sans',sans-serif" font-weight="normal" fill="#333">Marker</text>
<text transform="translate(16.9 512.1) rotate(-90)" text-anchor="middle" font-size="11.1" fill="#333" font-family="'DejaVu Sans','Liberation Sans',sans-serif">Marker</text>
<text x="157.9" y="388.4" text-anchor="middle" font-size="10.4" font-family="'DejaVu Sans','Liberation Sans',sans-serif" font-weight="normal" fill="#333" textLength="102.3" lengthAdjust="spacingAndGlyphs">Frame 16 (Head 1)</text>
<rect x="290.9" y="392" width="12.7" height="238" fill="url(#g1)"/>
<line x1="303.6" y1="630" x2="306.1" y2="630" stroke="#262626" stroke-width="0.8"/>
<text x="308.8" y="630" font-size="9.6" fill="#262626" font-family="'DejaVu Sans','Liberation Sans',sans-serif" dominant-baseline="central">0.0</text>
<line x1="303.6" y1="582.4" x2="306.1" y2="582.4" stroke="#262626" stroke-width="0.8"/>
<text x="308.8" y="582.4" font-size="9.6" fill="#262626" font-family="'DejaVu Sans','Liberation Sans',sans-serif" dominant-baseline="central">0.2</text>
<line x1="303.6" y1="534.8" x2="306.1" y2="534.8" stroke="#262626" stroke-width="0.8"/>
<text x="308.8" y="534.8" font-size="9.6" fill="#262626" font-family="'DejaVu Sans','Liberation Sans',sans-serif" dominant-baseline="central">0.4</text>
<line x1="303.6" y1="487.2" x2="306.1" y2="487.2" stroke="#262626" stroke-width="0.8"/>
<text x="308.8" y="487.2" font-size="9.6" fill="#262626" font-family="'DejaVu Sans','Liberation Sans',sans-serif" dominant-baseline="central">0.6</text>
<line x1="303.6" y1="439.6" x2="306.1" y2="439.6" stroke="#262626" stroke-width="0.8"/>
<text x="308.8" y="439.6" font-size="9.6" fill="#262626" font-family="'DejaVu Sans','Liberation Sans',sans-serif" dominant-baseline="central">0.8</text>
<line x1="303.6" y1="392" x2="306.1" y2="392" stroke="#262626" stroke-width="0.8"/>
<text x="308.8" y="392" font-size="9.6" fill="#262626" font-family="'DejaVu Sans','Liberation Sans',sans-serif" dominant-baseline="central">1.0</text>
<text x="154.9" y="671.6" text-anchor="middle" font-size="13.6" font-family="'Liberation Serif','Times New Roman',serif" font-weight="bold" fill="#111" textLength="177" lengthAdjust="spacingAndGlyphs" stroke="#111" stroke-width="0.35">Spatial Self-Attention Weights</text>
<rect x="395" y="392" width="237.2" height="238.5" fill="#6cc4c0"/>
<rect x="443.18" y="392" width="3.71" height="238.5" fill="#68c3c3"/>
<rect x="446.89" y="392" width="3.71" height="238.5" fill="#68c3c3"/>
<rect x="480.24" y="392" width="3.71" height="238.5" fill="#68c3c3"/>
<rect x="502.48" y="392" width="3.71" height="238.5" fill="#68c3c3"/>
<rect x="506.19" y="392" width="3.71" height="238.5" fill="#68c3c3"/>
<rect x="521.01" y="392" width="3.71" height="238.5" fill="#68c3c3"/>
<rect x="561.78" y="392" width="3.71" height="238.5" fill="#68c3c3"/>
<rect x="580.31" y="392" width="3.71" height="238.5" fill="#68c3c3"/>
<rect x="587.73" y="392" width="3.71" height="238.5" fill="#68c3c3"/>
<rect x="598.84" y="392" width="3.71" height="238.5" fill="#68c3c3"/>
<rect x="395" y="440.45" width="237.2" height="3.73" fill="#69c3c2"/>
<rect x="395" y="444.17" width="237.2" height="3.73" fill="#69c3c2"/>
<rect x="395" y="451.62" width="237.2" height="3.73" fill="#69c3c2"/>
<rect x="395" y="477.71" width="237.2" height="3.73" fill="#69c3c2"/>
<rect x="395" y="500.07" width="237.2" height="3.73" fill="#69c3c2"/>
<rect x="395" y="503.8" width="237.2" height="3.73" fill="#69c3c2"/>
<rect x="395" y="518.7" width="237.2" height="3.73" fill="#69c3c2"/>
<rect x="395" y="559.7" width="237.2" height="3.73" fill="#69c3c2"/>
<rect x="395" y="578.33" width="237.2" height="3.73" fill="#69c3c2"/>
<rect x="395" y="585.78" width="237.2" height="3.73" fill="#69c3c2"/>
<rect x="395" y="596.96" width="237.2" height="3.73" fill="#69c3c2"/>
<rect x="443.18" y="440.45" width="3.76" height="3.78" fill="#4dbcda"/>
<rect x="446.89" y="440.45" width="3.76" height="3.78" fill="#4dbcda"/>
<rect x="480.24" y="440.45" width="3.76" height="3.78" fill="#30b8e8"/>
<rect x="502.48" y="440.45" width="3.76" height="3.78" fill="#5ec0cc"/>
<rect x="506.19" y="440.45" width="3.76" height="3.78" fill="#5ec0cc"/>
<rect x="521.01" y="440.45" width="3.76" height="3.78" fill="#36b9e5"/>
<rect x="561.78" y="440.45" width="3.76" height="3.78" fill="#36b9e5"/>
<rect x="580.31" y="440.45" width="3.76" height="3.78" fill="#5bbfce"/>
<rect x="587.73" y="440.45" width="3.76" height="3.78" fill="#50bcd8"/>
<rect x="598.84" y="440.45" width="3.76" height="3.78" fill="#50bcd8"/>
<rect x="443.18" y="444.17" width="3.76" height="3.78" fill="#4dbcda"/>
<rect x="446.89" y="444.17" width="3.76" height="3.78" fill="#4dbcda"/>
<rect x="480.24" y="444.17" width="3.76" height="3.78" fill="#30b8e8"/>
<rect x="502.48" y="444.17" width="3.76" height="3.78" fill="#5ec0cc"/>
<rect x="506.19" y="444.17" width="3.76" height="3.78" fill="#5ec0cc"/>
<rect x="521.01" y="444.17" width="3.76" height="3.78" fill="#36b9e5"/>
<rect x="561.78" y="444.17" width="3.76" height="3.78" fill="#36b9e5"/>
<rect x="580.31" y="444.17" width="3.76" height="3.78" fill="#5bbfce"/>
<rect x="587.73" y="444.17" width="3.76" height="3.78" fill="#50bcd8"/>
<rect x="598.84" y="444.17" width="3.76" height="3.78" fill="#50bcd8"/>
<rect x="443.18" y="451.62" width="3.76" height="3.78" fill="#4abbdb"/>
<rect x="446.89" y="451.62" width="3.76" height="3.78" fill="#4abbdb"/>
<rect x="480.24" y="451.62" width="3.76" height="3.78" fill="#3ab9e3"/>
<rect x="502.48" y="451.62" width="3.76" height="3.78" fill="#61c1ca"/>
<rect x="506.19" y="451.62" width="3.76" height="3.78" fill="#61c1ca"/>
<rect x="521.01" y="451.62" width="3.76" height="3.78" fill="#40bae0"/>
<rect x="561.78" y="451.62" width="3.76" height="3.78" fill="#40bae0"/>
<rect x="580.31" y="451.62" width="3.76" height="3.78" fill="#5ec0cc"/>
<rect x="587.73" y="451.62" width="3.76" height="3.78" fill="#50bcd8"/>
<rect x="598.84" y="451.62" width="3.76" height="3.78" fill="#56bed3"/>
<rect x="443.18" y="477.71" width="3.76" height="3.78" fill="#4abbdb"/>
<rect x="446.89" y="477.71" width="3.76" height="3.78" fill="#4abbdb"/>
<rect x="480.24" y="477.71" width="3.76" height="3.78" fill="#30b8e8"/>
<rect x="502.48" y="477.71" width="3.76" height="3.78" fill="#61c1ca"/>
<rect x="506.19" y="477.71" width="3.76" height="3.78" fill="#61c1ca"/>
<rect x="521.01" y="477.71" width="3.76" height="3.78" fill="#36b9e5"/>
<rect x="561.78" y="477.71" width="3.76" height="3.78" fill="#36b9e5"/>
<rect x="580.31" y="477.71" width="3.76" height="3.78" fill="#5ec0cc"/>
<rect x="587.73" y="477.71" width="3.76" height="3.78" fill="#50bcd8"/>
<rect x="598.84" y="477.71" width="3.76" height="3.78" fill="#56bed3"/>
<rect x="443.18" y="500.07" width="3.76" height="3.78" fill="#56bed3"/>
<rect x="446.89" y="500.07" width="3.76" height="3.78" fill="#56bed3"/>
<rect x="480.24" y="500.07" width="3.76" height="3.78" fill="#30b8e8"/>
<rect x="502.48" y="500.07" width="3.76" height="3.78" fill="#5ec0cc"/>
<rect x="506.19" y="500.07" width="3.76" height="3.78" fill="#5ec0cc"/>
<rect x="521.01" y="500.07" width="3.76" height="3.78" fill="#30b8e8"/>
<rect x="561.78" y="500.07" width="3.76" height="3.78" fill="#30b8e8"/>
<rect x="580.31" y="500.07" width="3.76" height="3.78" fill="#5bbfce"/>
<rect x="587.73" y="500.07" width="3.76" height="3.78" fill="#40bae0"/>
<rect x="598.84" y="500.07" width="3.76" height="3.78" fill="#40bae0"/>
<rect x="443.18" y="503.8" width="3.76" height="3.78" fill="#56bed3"/>
<rect x="446.89" y="503.8" width="3.76" height="3.78" fill="#56bed3"/>
<rect x="480.24" y="503.8" width="3.76" height="3.78" fill="#30b8e8"/>
<rect x="502.48" y="503.8" width="3.76" height="3.78" fill="#5ec0cc"/>
<rect x="506.19" y="503.8" width="3.76" height="3.78" fill="#5ec0cc"/>
<rect x="521.01" y="503.8" width="3.76" height="3.78" fill="#30b8e8"/>
<rect x="561.78" y="503.8" width="3.76" height="3.78" fill="#30b8e8"/>
<rect x="580.31" y="503.8" width="3.76" height="3.78" fill="#5bbfce"/>
<rect x="587.73" y="503.8" width="3.76" height="3.78" fill="#40bae0"/>
<rect x="598.84" y="503.8" width="3.76" height="3.78" fill="#40bae0"/>
<rect x="443.18" y="518.7" width="3.76" height="3.78" fill="#50bcd8"/>
<rect x="446.89" y="518.7" width="3.76" height="3.78" fill="#50bcd8"/>
<rect x="480.24" y="518.7" width="3.76" height="3.78" fill="#40bae0"/>
<rect x="502.48" y="518.7" width="3.76" height="3.78" fill="#64c2c7"/>
<rect x="506.19" y="518.7" width="3.76" height="3.78" fill="#64c2c7"/>
<rect x="521.01" y="518.7" width="3.76" height="3.78" fill="#36b9e5"/>
<rect x="561.78" y="518.7" width="3.76" height="3.78" fill="#36b9e5"/>
<rect x="580.31" y="518.7" width="3.76" height="3.78" fill="#5bbfce"/>
<rect x="587.73" y="518.7" width="3.76" height="3.78" fill="#40bae0"/>
<rect x="598.84" y="518.7" width="3.76" height="3.78" fill="#36b9e5"/>
<rect x="443.18" y="559.7" width="3.76" height="3.78" fill="#56bed3"/>
<rect x="446.89" y="559.7" width="3.76" height="3.78" fill="#56bed3"/>
<rect x="480.24" y="559.7" width="3.76" height="3.78" fill="#50bcd8"/>
<rect x="502.48" y="559.7" width="3.76" height="3.78" fill="#64c2c7"/>
<rect x="506.19" y="559.7" width="3.76" height="3.78" fill="#64c2c7"/>
<rect x="521.01" y="559.7" width="3.76" height="3.78" fill="#36b9e5"/>
<rect x="561.78" y="559.7" width="3.76" height="3.78" fill="#30b8e8"/>
<rect x="580.31" y="559.7" width="3.76" height="3.78" fill="#5bbfce"/>
<rect x="587.73" y="559.7" width="3.76" height="3.78" fill="#36b9e5"/>
<rect x="598.84" y="559.7" width="3.76" height="3.78" fill="#30b8e8"/>
<rect x="443.18" y="578.33" width="3.76" height="3.78" fill="#5ec0cc"/>
<rect x="446.89" y="578.33" width="3.76" height="3.78" fill="#5ec0cc"/>
<rect x="480.24" y="578.33" width="3.76" height="3.78" fill="#5bbfce"/>
<rect x="502.48" y="578.33" width="3.76" height="3.78" fill="#64c2c7"/>
<rect x="506.19" y="578.33" width="3.76" height="3.78" fill="#64c2c7"/>
<rect x="521.01" y="578.33" width="3.76" height="3.78" fill="#40bae0"/>
<rect x="561.78" y="578.33" width="3.76" height="3.78" fill="#36b9e5"/>
<rect x="580.31" y="578.33" width="3.76" height="3.78" fill="#56bed3"/>
<rect x="587.73" y="578.33" width="3.76" height="3.78" fill="#30b8e8"/>
<rect x="598.84" y="578.33" width="3.76" height="3.78" fill="#30b8e8"/>
<rect x="443.18" y="585.78" width="3.76" height="3.78" fill="#5ec0cc"/>
<rect x="446.89" y="585.78" width="3.76" height="3.78" fill="#5ec0cc"/>
<rect x="480.24" y="585.78" width="3.76" height="3.78" fill="#5bbfce"/>
<rect x="502.48" y="585.78" width="3.76" height="3.78" fill="#64c2c7"/>
<rect x="506.19" y="585.78" width="3.76" height="3.78" fill="#64c2c7"/>
<rect x="521.01" y="585.78" width="3.76" height="3.78" fill="#40bae0"/>
<rect x="561.78" y="585.78" width="3.76" height="3.78" fill="#36b9e5"/>
<rect x="580.31" y="585.78" width="3.76" height="3.78" fill="#56bed3"/>
<rect x="587.73" y="585.78" width="3.76" height="3.78" fill="#30b8e8"/>
<rect x="598.84" y="585.78" width="3.76" height="3.78" fill="#30b8e8"/>
<rect x="443.18" y="596.96" width="3.76" height="3.78" fill="#5ec0cc"/>
<rect x="446.89" y="596.96" width="3.76" height="3.78" fill="#5ec0cc"/>
<rect x="480.24" y="596.96" width="3.76" height="3.78" fill="#5bbfce"/>
<rect x="502.48" y="596.96" width="3.76" height="3.78" fill="#64c2c7"/>
<rect x="506.19" y="596.96" width="3.76" height="3.78" fill="#64c2c7"/>
<rect x="521.01" y="596.96" width="3.76" height="3.78" fill="#40bae0"/>
<rect x="561.78" y="596.96" width="3.76" height="3.78" fill="#36b9e5"/>
<rect x="580.31" y="596.96" width="3.76" height="3.78" fill="#56bed3"/>
<rect x="587.73" y="596.96" width="3.76" height="3.78" fill="#30b8e8"/>
<rect x="598.84" y="596.96" width="3.76" height="3.78" fill="#3cace0"/>
<text x="388.9" y="393.86" text-anchor="end" font-size="9.6" fill="#262626" font-family="'DejaVu Sans','Liberation Sans',sans-serif" dominant-baseline="central">0</text>
<text x="388.9" y="405.04" text-anchor="end" font-size="9.6" fill="#262626" font-family="'DejaVu Sans','Liberation Sans',sans-serif" dominant-baseline="central">3</text>
<text x="388.9" y="416.22" text-anchor="end" font-size="9.6" fill="#262626" font-family="'DejaVu Sans','Liberation Sans',sans-serif" dominant-baseline="central">6</text>
<text x="388.9" y="427.4" text-anchor="end" font-size="9.6" fill="#262626" font-family="'DejaVu Sans','Liberation Sans',sans-serif" dominant-baseline="central">9</text>
<text x="388.9" y="438.58" text-anchor="end" font-size="9.6" fill="#262626" font-family="'DejaVu Sans','Liberation Sans',sans-serif" dominant-baseline="central">12</text>
<text x="388.9" y="449.76" text-anchor="end" font-size="9.6" fill="#262626" font-family="'DejaVu Sans','Liberation Sans',sans-serif" dominant-baseline="central">15</text>
<text x="388.9" y="460.94" text-anchor="end" font-size="9.6" fill="#262626" font-family="'DejaVu Sans','Liberation Sans',sans-serif" dominant-baseline="central">18</text>
<text x="388.9" y="472.12" text-anchor="end" font-size="9.6" fill="#262626" font-family="'DejaVu Sans','Liberation Sans',sans-serif" dominant-baseline="central">21</text>
<text x="388.9" y="483.3" text-anchor="end" font-size="9.6" fill="#262626" font-family="'DejaVu Sans','Liberation Sans',sans-serif" dominant-baseline="central">24</text>
<text x="388.9" y="494.48" text-anchor="end" font-size="9.6" fill="#262626" font-family="'DejaVu Sans','Liberation Sans',sans-serif" dominant-baseline="central">27</text>
<text x="388.9" y="505.66" text-anchor="end" font-size="9.6" fill="#262626" font-family="'DejaVu Sans','Liberation Sans',sans-serif" dominant-baseline="central">30</text>
<text x="388.9" y="516.84" text-anchor="end" font-size="9.6" fill="#262626" font-family="'DejaVu Sans','Liberation Sans',sans-serif" dominant-baseline="central">33</text>
<text x="388.9" y="528.02" text-anchor="end" font-size="9.6" fill="#262626" font-family="'DejaVu Sans','Liberation Sans',sans-serif" dominant-baseline="central">36</text>
<text x="388.9" y="539.2" text-anchor="end" font-size="9.6" fill="#262626" font-family="'DejaVu Sans','Liberation Sans',sans-serif" dominant-baseline="central">39</text>
<text x="388.9" y="550.38" text-anchor="end" font-size="9.6" fill="#262626" font-family="'DejaVu Sans','Liberation Sans',sans-serif" dominant-baseline="central">42</text>
<text x="388.9" y="561.56" text-anchor="end" font-size="9.6" fill="#262626" font-family="'DejaVu Sans','Liberation Sans',sans-serif" dominant-baseline="central">45</text>
<text x="388.9" y="572.74" text-anchor="end" font-size="9.6" fill="#262626" font-family="'DejaVu Sans','Liberation Sans',sans-serif" dominant-baseline="central">48</text>
<text x="388.9" y="583.92" text-anchor="end" font-size="9.6" fill="#262626" font-family="'DejaVu Sans','Liberation Sans',sans-serif" dominant-baseline="central">51</text>
<text x="388.9" y="595.1" text-anchor="end" font-size="9.6" fill="#262626" font-family="'DejaVu Sans','Liberation Sans',sans-serif" dominant-baseline="central">54</text>
<text x="388.9" y="606.28" text-anchor="end" font-size="9.6" fill="#262626" font-family="'DejaVu Sans','Liberation Sans',sans-serif" dominant-baseline="central">57</text>
<text x="388.9" y="617.46" text-anchor="end" font-size="9.6" fill="#262626" font-family="'DejaVu Sans','Liberation Sans',sans-serif" dominant-baseline="central">60</text>
<text x="388.9" y="628.64" text-anchor="end" font-size="9.6" fill="#262626" font-family="'DejaVu Sans','Liberation Sans',sans-serif" dominant-baseline="central">63</text>
<text transform="translate(396.85 637.6) rotate(-90)" text-anchor="end" font-size="9.9" fill="#262626" font-family="'DejaVu Sans','Liberation Sans',sans-serif" dominant-baseline="central">0</text>
<text transform="translate(407.97 637.6) rotate(-90)" text-anchor="end" font-size="9.9" fill="#262626" font-family="'DejaVu Sans','Liberation Sans',sans-serif" dominant-baseline="central">3</text>
<text transform="translate(419.09 637.6) rotate(-90)" text-anchor="end" font-size="9.9" fill="#262626" font-family="'DejaVu Sans','Liberation Sans',sans-serif" dominant-baseline="central">6</text>
<text transform="translate(430.21 637.6) rotate(-90)" text-anchor="end" font-size="9.9" fill="#262626" font-family="'DejaVu Sans','Liberation Sans',sans-serif" dominant-baseline="central">9</text>
<text transform="translate(441.33 637.6) rotate(-90)" text-anchor="end" font-size="9.9" fill="#262626" font-family="'DejaVu Sans','Liberation Sans',sans-serif" dominant-baseline="central">12</text>
<text transform="translate(452.45 637.6) rotate(-90)" text-anchor="end" font-size="9.9" fill="#262626" font-family="'DejaVu Sans','Liberation Sans',sans-serif" dominant-baseline="central">15</text>
<text transform="translate(463.57 637.6) rotate(-90)" text-anchor="end" font-size="9.9" fill="#262626" font-family="'DejaVu Sans','Liberation Sans',sans-serif" dominant-baseline="central">18</text>
<text transform="translate(474.68 637.6) rotate(-90)" text-anchor="end" font-size="9.9" fill="#262626" font-family="'DejaVu Sans','Liberation Sans',sans-serif" dominant-baseline="central">21</text>
<text transform="translate(485.8 637.6) rotate(-90)" text-anchor="end" font-size="9.9" fill="#262626" font-family="'DejaVu Sans','Liberation Sans',sans-serif" dominant-baseline="central">24</text>
<text transform="translate(496.92 637.6) rotate(-90)" text-anchor="end" font-size="9.9" fill="#262626" font-family="'DejaVu Sans','Liberation Sans',sans-serif" dominant-baseline="central">27</text>
<text transform="translate(508.04 637.6) rotate(-90)" text-anchor="end" font-size="9.9" fill="#262626" font-family="'DejaVu Sans','Liberation Sans',sans-serif" dominant-baseline="central">30</text>
<text transform="translate(519.16 637.6) rotate(-90)" text-anchor="end" font-size="9.9" fill="#262626" font-family="'DejaVu Sans','Liberation Sans',sans-serif" dominant-baseline="central">33</text>
<text transform="translate(530.28 637.6) rotate(-90)" text-anchor="end" font-size="9.9" fill="#262626" font-family="'DejaVu Sans','Liberation Sans',sans-serif" dominant-baseline="central">36</text>
<text transform="translate(541.4 637.6) rotate(-90)" text-anchor="end" font-size="9.9" fill="#262626" font-family="'DejaVu Sans','Liberation Sans',sans-serif" dominant-baseline="central">39</text>
<text transform="translate(552.52 637.6) rotate(-90)" text-anchor="end" font-size="9.9" fill="#262626" font-family="'DejaVu Sans','Liberation Sans',sans-serif" dominant-baseline="central">42</text>
<text transform="translate(563.63 637.6) rotate(-90)" text-anchor="end" font-size="9.9" fill="#262626" font-family="'DejaVu Sans','Liberation Sans',sans-serif" dominant-baseline="central">45</text>
<text transform="translate(574.75 637.6) rotate(-90)" text-anchor="end" font-size="9.9" fill="#262626" font-family="'DejaVu Sans','Liberation Sans',sans-serif" dominant-baseline="central">48</text>
<text transform="translate(585.87 637.6) rotate(-90)" text-anchor="end" font-size="9.9" fill="#262626" font-family="'DejaVu Sans','Liberation Sans',sans-serif" dominant-baseline="central">51</text>
<text transform="translate(596.99 637.6) rotate(-90)" text-anchor="end" font-size="9.9" fill="#262626" font-family="'DejaVu Sans','Liberation Sans',sans-serif" dominant-baseline="central">54</text>
<text transform="translate(608.11 637.6) rotate(-90)" text-anchor="end" font-size="9.9" fill="#262626" font-family="'DejaVu Sans','Liberation Sans',sans-serif" dominant-baseline="central">57</text>
<text transform="translate(619.23 637.6) rotate(-90)" text-anchor="end" font-size="9.9" fill="#262626" font-family="'DejaVu Sans','Liberation Sans',sans-serif" dominant-baseline="central">60</text>
<text transform="translate(630.35 637.6) rotate(-90)" text-anchor="end" font-size="9.9" fill="#262626" font-family="'DejaVu Sans','Liberation Sans',sans-serif" dominant-baseline="central">63</text>
<text x="513.6" y="659.9" text-anchor="middle" font-size="11.1" font-family="'DejaVu Sans','Liberation Sans',sans-serif" font-weight="normal" fill="#333">Frame</text>
<text transform="translate(372.2 512.1) rotate(-90)" text-anchor="middle" font-size="11.1" fill="#333" font-family="'DejaVu Sans','Liberation Sans',sans-serif">Frame</text>
<text x="513.6" y="388.4" text-anchor="middle" font-size="10.4" font-family="'DejaVu Sans','Liberation Sans',sans-serif" font-weight="normal" fill="#333" textLength="106.3" lengthAdjust="spacingAndGlyphs">Marker 30 (Head 1)</text>
<rect x="646.9" y="392" width="11.7" height="238.5" fill="url(#g2)"/>
<line x1="658.6" y1="630.5" x2="661.1" y2="630.5" stroke="#262626" stroke-width="0.8"/>
<text x="664.4" y="630.5" font-size="9.6" fill="#262626" font-family="'DejaVu Sans','Liberation Sans',sans-serif" dominant-baseline="central">0.0</text>
<line x1="658.6" y1="582.8" x2="661.1" y2="582.8" stroke="#262626" stroke-width="0.8"/>
<text x="664.4" y="582.8" font-size="9.6" fill="#262626" font-family="'DejaVu Sans','Liberation Sans',sans-serif" dominant-baseline="central">0.2</text>
<line x1="658.6" y1="535.1" x2="661.1" y2="535.1" stroke="#262626" stroke-width="0.8"/>
<text x="664.4" y="535.1" font-size="9.6" fill="#262626" font-family="'DejaVu Sans','Liberation Sans',sans-serif" dominant-baseline="central">0.4</text>
<line x1="658.6" y1="487.4" x2="661.1" y2="487.4" stroke="#262626" stroke-width="0.8"/>
<text x="664.4" y="487.4" font-size="9.6" fill="#262626" font-family="'DejaVu Sans','Liberation Sans',sans-serif" dominant-baseline="central">0.6</text>
<line x1="658.6" y1="439.7" x2="661.1" y2="439.7" stroke="#262626" stroke-width="0.8"/>
<text x="664.4" y="439.7" font-size="9.6" fill="#262626" font-family="'DejaVu Sans','Liberation Sans',sans-serif" dominant-baseline="central">0.8</text>
<line x1="658.6" y1="392" x2="661.1" y2="392" stroke="#262626" stroke-width="0.8"/>
<text x="664.4" y="392" font-size="9.6" fill="#262626" font-family="'DejaVu Sans','Liberation Sans',sans-serif" dominant-baseline="central">1.0</text>
<text x="516" y="674.8" text-anchor="middle" font-size="13.6" font-family="'Liberation Serif','Times New Roman',serif" font-weight="bold" fill="#111" textLength="193.4" lengthAdjust="spacingAndGlyphs" stroke="#111" stroke-width="0.35">Temporal Self-Attention Weights</text>
<text x="342.8" y="700.9" text-anchor="middle" font-size="22.5" font-family="'Liberation Serif','Times New Roman',serif" font-weight="bold" fill="#111" textLength="27.4" lengthAdjust="spacingAndGlyphs" stroke="#111" stroke-width="0.35">(a)</text>
<line x1="90.4" y1="885.4" x2="96.2" y2="901.3" stroke="#fac985" stroke-width="1.7" stroke-linecap="round"/>
<line x1="90.4" y1="885.4" x2="87.1" y2="903.1" stroke="#fac985" stroke-width="1.7" stroke-linecap="round"/>
<line x1="90.4" y1="885.4" x2="85.5" y2="866.9" stroke="#fac985" stroke-width="1.7" stroke-linecap="round"/>
<line x1="96.2" y1="901.3" x2="119.3" y2="908.6" stroke="#fac985" stroke-width="1.7" stroke-linecap="round"/>
<line x1="87.1" y1="903.1" x2="102" y2="923.2" stroke="#fac985" stroke-width="1.7" stroke-linecap="round"/>
<line x1="85.5" y1="866.9" x2="90.6" y2="843" stroke="#fac985" stroke-width="1.7" stroke-linecap="round"/>
<line x1="119.3" y1="908.6" x2="101.5" y2="964.1" stroke="#fac985" stroke-width="1.7" stroke-linecap="round"/>
<line x1="102" y1="923.2" x2="89.5" y2="978.5" stroke="#fac985" stroke-width="1.7" stroke-linecap="round"/>
<line x1="90.6" y1="843" x2="91.9" y2="833.1" stroke="#fac985" stroke-width="1.7" stroke-linecap="round"/>
<line x1="101.5" y1="964.1" x2="110.5" y2="984.3" stroke="#fac985" stroke-width="1.7" stroke-linecap="round"/>
<line x1="89.5" y1="978.5" x2="90.4" y2="999.1" stroke="#fac985" stroke-width="1.7" stroke-linecap="round"/>
<line x1="91.9" y1="833.1" x2="94.2" y2="794.8" stroke="#fac985" stroke-width="1.7" stroke-linecap="round"/>
<line x1="91.9" y1="833.1" x2="99.1" y2="810.9" stroke="#fac985" stroke-width="1.7" stroke-linecap="round"/>
<line x1="91.9" y1="833.1" x2="86.3" y2="813" stroke="#fac985" stroke-width="1.7" stroke-linecap="round"/>
<line x1="94.2" y1="794.8" x2="100.3" y2="783.8" stroke="#fac985" stroke-width="1.7" stroke-linecap="round"/>
<line x1="99.1" y1="810.9" x2="111.4" y2="813" stroke="#fac985" stroke-width="1.7" stroke-linecap="round"/>
<line x1="86.3" y1="813" x2="79" y2="817.3" stroke="#fac985" stroke-width="1.7" stroke-linecap="round"/>
<line x1="111.4" y1="813" x2="104.1" y2="856.4" stroke="#fac985" stroke-width="1.7" stroke-linecap="round"/>
<line x1="79" y1="817.3" x2="72" y2="859.9" stroke="#fac985" stroke-width="1.7" stroke-linecap="round"/>
<line x1="104.1" y1="856.4" x2="110.5" y2="905.5" stroke="#fac985" stroke-width="1.7" stroke-linecap="round"/>
<line x1="72" y1="859.9" x2="74.2" y2="910.6" stroke="#fac985" stroke-width="1.7" stroke-linecap="round"/>
<line x1="110.5" y1="905.5" x2="111.2" y2="923.2" stroke="#fac985" stroke-width="1.7" stroke-linecap="round"/>
<line x1="74.2" y1="910.6" x2="75.2" y2="928.5" stroke="#fac985" stroke-width="1.7" stroke-linecap="round"/>
<circle cx="90.4" cy="885.4" r="1.6" fill="#f5a030"/>
<circle cx="96.2" cy="901.3" r="1.6" fill="#f5a030"/>
<circle cx="87.1" cy="903.1" r="1.6" fill="#f5a030"/>
<circle cx="85.5" cy="866.9" r="1.6" fill="#f5a030"/>
<circle cx="119.3" cy="908.6" r="1.6" fill="#f5a030"/>
<circle cx="102" cy="923.2" r="1.6" fill="#f5a030"/>
<circle cx="90.6" cy="843" r="1.6" fill="#f5a030"/>
<circle cx="101.5" cy="964.1" r="1.6" fill="#f5a030"/>
<circle cx="89.5" cy="978.5" r="1.6" fill="#f5a030"/>
<circle cx="91.9" cy="833.1" r="1.6" fill="#f5a030"/>
<circle cx="110.5" cy="984.3" r="1.6" fill="#f5a030"/>
<circle cx="90.4" cy="999.1" r="1.6" fill="#f5a030"/>
<circle cx="94.2" cy="794.8" r="1.6" fill="#f5a030"/>
<circle cx="99.1" cy="810.9" r="1.6" fill="#f5a030"/>
<circle cx="86.3" cy="813" r="1.6" fill="#f5a030"/>
<circle cx="100.3" cy="783.8" r="1.6" fill="#f5a030"/>
<circle cx="111.4" cy="813" r="1.6" fill="#f5a030"/>
<circle cx="79" cy="817.3" r="1.6" fill="#f5a030"/>
<circle cx="104.1" cy="856.4" r="1.6" fill="#f5a030"/>
<circle cx="72" cy="859.9" r="1.6" fill="#f5a030"/>
<circle cx="110.5" cy="905.5" r="1.6" fill="#f5a030"/>
<circle cx="74.2" cy="910.6" r="1.6" fill="#f5a030"/>
<circle cx="111.2" cy="923.2" r="1.6" fill="#f5a030"/>
<circle cx="75.2" cy="928.5" r="1.6" fill="#f5a030"/>
<text x="90.7" y="885.7" font-size="9.3" fill="#1a1a1a" stroke="#1a1a1a" stroke-width="0.2" font-family="'DejaVu Sans','Liberation Sans',sans-serif">0</text>
<text x="96.5" y="901.6" font-size="9.3" fill="#1a1a1a" stroke="#1a1a1a" stroke-width="0.2" font-family="'DejaVu Sans','Liberation Sans',sans-serif">1</text>
<text x="87.4" y="903.4" font-size="9.3" fill="#1a1a1a" stroke="#1a1a1a" stroke-width="0.2" font-family="'DejaVu Sans','Liberation Sans',sans-serif">2</text>
<text x="85.8" y="867.2" font-size="9.3" fill="#1a1a1a" stroke="#1a1a1a" stroke-width="0.2" font-family="'DejaVu Sans','Liberation Sans',sans-serif">3</text>
<text x="119.6" y="908.9" font-size="9.3" fill="#1a1a1a" stroke="#1a1a1a" stroke-width="0.2" font-family="'DejaVu Sans','Liberation Sans',sans-serif">4</text>
<text x="102.3" y="923.5" font-size="9.3" fill="#1a1a1a" stroke="#1a1a1a" stroke-width="0.2" font-family="'DejaVu Sans','Liberation Sans',sans-serif">5</text>
<text x="90.9" y="843.3" font-size="9.3" fill="#1a1a1a" stroke="#1a1a1a" stroke-width="0.2" font-family="'DejaVu Sans','Liberation Sans',sans-serif">6</text>
<text x="101.8" y="964.4" font-size="9.3" fill="#1a1a1a" stroke="#1a1a1a" stroke-width="0.2" font-family="'DejaVu Sans','Liberation Sans',sans-serif">7</text>
<text x="89.8" y="978.8" font-size="9.3" fill="#1a1a1a" stroke="#1a1a1a" stroke-width="0.2" font-family="'DejaVu Sans','Liberation Sans',sans-serif">8</text>
<text x="92.2" y="833.4" font-size="9.3" fill="#1a1a1a" stroke="#1a1a1a" stroke-width="0.2" font-family="'DejaVu Sans','Liberation Sans',sans-serif">9</text>
<text x="110.8" y="984.6" font-size="9.3" fill="#1a1a1a" stroke="#1a1a1a" stroke-width="0.2" font-family="'DejaVu Sans','Liberation Sans',sans-serif">10</text>
<text x="90.7" y="999.4" font-size="9.3" fill="#1a1a1a" stroke="#1a1a1a" stroke-width="0.2" font-family="'DejaVu Sans','Liberation Sans',sans-serif">11</text>
<text x="94.5" y="795.1" font-size="9.3" fill="#1a1a1a" stroke="#1a1a1a" stroke-width="0.2" font-family="'DejaVu Sans','Liberation Sans',sans-serif">12</text>
<text x="99.4" y="811.2" font-size="9.3" fill="#1a1a1a" stroke="#1a1a1a" stroke-width="0.2" font-family="'DejaVu Sans','Liberation Sans',sans-serif">13</text>
<text x="86.6" y="813.3" font-size="9.3" fill="#1a1a1a" stroke="#1a1a1a" stroke-width="0.2" font-family="'DejaVu Sans','Liberation Sans',sans-serif">14</text>
<text x="100.6" y="784.1" font-size="9.3" fill="#1a1a1a" stroke="#1a1a1a" stroke-width="0.2" font-family="'DejaVu Sans','Liberation Sans',sans-serif">15</text>
<text x="111.7" y="813.3" font-size="9.3" fill="#1a1a1a" stroke="#1a1a1a" stroke-width="0.2" font-family="'DejaVu Sans','Liberation Sans',sans-serif">16</text>
<text x="79.3" y="817.6" font-size="9.3" fill="#1a1a1a" stroke="#1a1a1a" stroke-width="0.2" font-family="'DejaVu Sans','Liberation Sans',sans-serif">17</text>
<text x="104.4" y="856.7" font-size="9.3" fill="#1a1a1a" stroke="#1a1a1a" stroke-width="0.2" font-family="'DejaVu Sans','Liberation Sans',sans-serif">18</text>
<text x="72.3" y="860.2" font-size="9.3" fill="#1a1a1a" stroke="#1a1a1a" stroke-width="0.2" font-family="'DejaVu Sans','Liberation Sans',sans-serif">19</text>
<text x="110.8" y="905.8" font-size="9.3" fill="#1a1a1a" stroke="#1a1a1a" stroke-width="0.2" font-family="'DejaVu Sans','Liberation Sans',sans-serif">20</text>
<text x="74.5" y="910.9" font-size="9.3" fill="#1a1a1a" stroke="#1a1a1a" stroke-width="0.2" font-family="'DejaVu Sans','Liberation Sans',sans-serif">21</text>
<text x="111.5" y="923.5" font-size="9.3" fill="#1a1a1a" stroke="#1a1a1a" stroke-width="0.2" font-family="'DejaVu Sans','Liberation Sans',sans-serif">22</text>
<text x="75.5" y="928.8" font-size="9.3" fill="#1a1a1a" stroke="#1a1a1a" stroke-width="0.2" font-family="'DejaVu Sans','Liberation Sans',sans-serif">23</text>
<line x1="216.6" y1="884" x2="222.6" y2="899.3" stroke="#8490d2" stroke-width="1.7" stroke-linecap="round"/>
<line x1="216.6" y1="884" x2="213.3" y2="901.6" stroke="#8490d2" stroke-width="1.7" stroke-linecap="round"/>
<line x1="216.6" y1="884" x2="211.9" y2="866.1" stroke="#8490d2" stroke-width="1.7" stroke-linecap="round"/>
<line x1="222.6" y1="899.3" x2="245.4" y2="906.9" stroke="#8490d2" stroke-width="1.7" stroke-linecap="round"/>
<line x1="213.3" y1="901.6" x2="228.5" y2="921.2" stroke="#8490d2" stroke-width="1.7" stroke-linecap="round"/>
<line x1="211.9" y1="866.1" x2="216.6" y2="841.6" stroke="#8490d2" stroke-width="1.7" stroke-linecap="round"/>
<line x1="245.4" y1="906.9" x2="227.3" y2="961.4" stroke="#8490d2" stroke-width="1.7" stroke-linecap="round"/>
<line x1="228.5" y1="921.2" x2="215.6" y2="975.2" stroke="#8490d2" stroke-width="1.7" stroke-linecap="round"/>
<line x1="216.6" y1="841.6" x2="218" y2="831.3" stroke="#8490d2" stroke-width="1.7" stroke-linecap="round"/>
<line x1="227.3" y1="961.4" x2="236.4" y2="981.4" stroke="#8490d2" stroke-width="1.7" stroke-linecap="round"/>
<line x1="215.6" y1="975.2" x2="216.6" y2="996" stroke="#8490d2" stroke-width="1.7" stroke-linecap="round"/>
<line x1="218" y1="831.3" x2="220.5" y2="794.5" stroke="#8490d2" stroke-width="1.7" stroke-linecap="round"/>
<line x1="218" y1="831.3" x2="225.3" y2="810.6" stroke="#8490d2" stroke-width="1.7" stroke-linecap="round"/>
<line x1="218" y1="831.3" x2="212.7" y2="812.6" stroke="#8490d2" stroke-width="1.7" stroke-linecap="round"/>
<line x1="220.5" y1="794.5" x2="226.7" y2="783.4" stroke="#8490d2" stroke-width="1.7" stroke-linecap="round"/>
<line x1="225.3" y1="810.6" x2="237.2" y2="812.6" stroke="#8490d2" stroke-width="1.7" stroke-linecap="round"/>
<line x1="212.7" y1="812.6" x2="204.9" y2="816.7" stroke="#8490d2" stroke-width="1.7" stroke-linecap="round"/>
<line x1="237.2" y1="812.6" x2="230.5" y2="855.8" stroke="#8490d2" stroke-width="1.7" stroke-linecap="round"/>
<line x1="204.9" y1="816.7" x2="198.3" y2="859.3" stroke="#8490d2" stroke-width="1.7" stroke-linecap="round"/>
<line x1="230.5" y1="855.8" x2="236.4" y2="904.2" stroke="#8490d2" stroke-width="1.7" stroke-linecap="round"/>
<line x1="198.3" y1="859.3" x2="201" y2="909.5" stroke="#8490d2" stroke-width="1.7" stroke-linecap="round"/>
<line x1="236.4" y1="904.2" x2="237.2" y2="921.2" stroke="#8490d2" stroke-width="1.7" stroke-linecap="round"/>
<line x1="201" y1="909.5" x2="201.8" y2="926.7" stroke="#8490d2" stroke-width="1.7" stroke-linecap="round"/>
<circle cx="216.6" cy="884" r="1.6" fill="#2b3fa0"/>
<circle cx="222.6" cy="899.3" r="1.6" fill="#2b3fa0"/>
<circle cx="213.3" cy="901.6" r="1.6" fill="#2b3fa0"/>
<circle cx="211.9" cy="866.1" r="1.6" fill="#2b3fa0"/>
<circle cx="245.4" cy="906.9" r="1.6" fill="#2b3fa0"/>
<circle cx="228.5" cy="921.2" r="1.6" fill="#2b3fa0"/>
<circle cx="216.6" cy="841.6" r="1.6" fill="#2b3fa0"/>
<circle cx="227.3" cy="961.4" r="1.6" fill="#2b3fa0"/>
<circle cx="215.6" cy="975.2" r="1.6" fill="#2b3fa0"/>
<circle cx="218" cy="831.3" r="1.6" fill="#2b3fa0"/>
<circle cx="236.4" cy="981.4" r="1.6" fill="#2b3fa0"/>
<circle cx="216.6" cy="996" r="1.6" fill="#2b3fa0"/>
<circle cx="220.5" cy="794.5" r="1.6" fill="#2b3fa0"/>
<circle cx="225.3" cy="810.6" r="1.6" fill="#2b3fa0"/>
<circle cx="212.7" cy="812.6" r="1.6" fill="#2b3fa0"/>
<circle cx="226.7" cy="783.4" r="1.6" fill="#2b3fa0"/>
<circle cx="237.2" cy="812.6" r="1.6" fill="#2b3fa0"/>
<circle cx="204.9" cy="816.7" r="1.6" fill="#2b3fa0"/>
<circle cx="230.5" cy="855.8" r="1.6" fill="#2b3fa0"/>
<circle cx="198.3" cy="859.3" r="1.6" fill="#2b3fa0"/>
<circle cx="236.4" cy="904.2" r="1.6" fill="#2b3fa0"/>
<circle cx="201" cy="909.5" r="1.6" fill="#2b3fa0"/>
<circle cx="237.2" cy="921.2" r="1.6" fill="#2b3fa0"/>
<circle cx="201.8" cy="926.7" r="1.6" fill="#2b3fa0"/>
<text x="227" y="783.7" font-size="9.3" fill="#1a1a1a" stroke="#1a1a1a" stroke-width="0.2" font-family="'DejaVu Sans','Liberation Sans',sans-serif">15</text>
<line x1="447.1" y1="883.7" x2="453.2" y2="898.7" stroke="#fac985" stroke-width="1.7" stroke-linecap="round"/>
<line x1="447.1" y1="883.7" x2="443.9" y2="901" stroke="#fac985" stroke-width="1.7" stroke-linecap="round"/>
<line x1="447.1" y1="883.7" x2="442.9" y2="866.1" stroke="#fac985" stroke-width="1.7" stroke-linecap="round"/>
<line x1="453.2" y1="898.7" x2="475.8" y2="905.9" stroke="#fac985" stroke-width="1.7" stroke-linecap="round"/>
<line x1="443.9" y1="901" x2="459.1" y2="920.5" stroke="#fac985" stroke-width="1.7" stroke-linecap="round"/>
<line x1="442.9" y1="866.1" x2="447.4" y2="842.2" stroke="#fac985" stroke-width="1.7" stroke-linecap="round"/>
<line x1="475.8" y1="905.9" x2="457.9" y2="960.2" stroke="#fac985" stroke-width="1.7" stroke-linecap="round"/>
<line x1="459.1" y1="920.5" x2="446.4" y2="973.8" stroke="#fac985" stroke-width="1.7" stroke-linecap="round"/>
<line x1="447.4" y1="842.2" x2="448.5" y2="832.2" stroke="#fac985" stroke-width="1.7" stroke-linecap="round"/>
<line x1="457.9" y1="960.2" x2="466.9" y2="979.6" stroke="#fac985" stroke-width="1.7" stroke-linecap="round"/>
<line x1="446.4" y1="973.8" x2="447.1" y2="994.2" stroke="#fac985" stroke-width="1.7" stroke-linecap="round"/>
<line x1="448.5" y1="832.2" x2="451.1" y2="795.5" stroke="#fac985" stroke-width="1.7" stroke-linecap="round"/>
<line x1="448.5" y1="832.2" x2="456.1" y2="811.1" stroke="#fac985" stroke-width="1.7" stroke-linecap="round"/>
<line x1="448.5" y1="832.2" x2="443.3" y2="813.2" stroke="#fac985" stroke-width="1.7" stroke-linecap="round"/>
<line x1="451.1" y1="795.5" x2="457.3" y2="784.6" stroke="#fac985" stroke-width="1.7" stroke-linecap="round"/>
<line x1="456.1" y1="811.1" x2="467.8" y2="813.2" stroke="#fac985" stroke-width="1.7" stroke-linecap="round"/>
<line x1="443.3" y1="813.2" x2="435.9" y2="817.3" stroke="#fac985" stroke-width="1.7" stroke-linecap="round"/>
<line x1="467.8" y1="813.2" x2="461" y2="855.8" stroke="#fac985" stroke-width="1.7" stroke-linecap="round"/>
<line x1="435.9" y1="817.3" x2="429.5" y2="859.3" stroke="#fac985" stroke-width="1.7" stroke-linecap="round"/>
<line x1="461" y1="855.8" x2="467" y2="903.6" stroke="#fac985" stroke-width="1.7" stroke-linecap="round"/>
<line x1="429.5" y1="859.3" x2="432" y2="909" stroke="#fac985" stroke-width="1.7" stroke-linecap="round"/>
<line x1="467" y1="903.6" x2="467.6" y2="920.5" stroke="#fac985" stroke-width="1.7" stroke-linecap="round"/>
<line x1="432" y1="909" x2="432.8" y2="925.5" stroke="#fac985" stroke-width="1.7" stroke-linecap="round"/>
<circle cx="447.1" cy="883.7" r="1.6" fill="#f5a030"/>
<circle cx="453.2" cy="898.7" r="1.6" fill="#f5a030"/>
<circle cx="443.9" cy="901" r="1.6" fill="#f5a030"/>
<circle cx="442.9" cy="866.1" r="1.6" fill="#f5a030"/>
<circle cx="475.8" cy="905.9" r="1.6" fill="#f5a030"/>
<circle cx="459.1" cy="920.5" r="1.6" fill="#f5a030"/>
<circle cx="447.4" cy="842.2" r="1.6" fill="#f5a030"/>
<circle cx="457.9" cy="960.2" r="1.6" fill="#f5a030"/>
<circle cx="446.4" cy="973.8" r="1.6" fill="#f5a030"/>
<circle cx="448.5" cy="832.2" r="1.6" fill="#f5a030"/>
<circle cx="466.9" cy="979.6" r="1.6" fill="#f5a030"/>
<circle cx="447.1" cy="994.2" r="1.6" fill="#f5a030"/>
<circle cx="451.1" cy="795.5" r="1.6" fill="#f5a030"/>
<circle cx="456.1" cy="811.1" r="1.6" fill="#f5a030"/>
<circle cx="443.3" cy="813.2" r="1.6" fill="#f5a030"/>
<circle cx="457.3" cy="784.6" r="1.6" fill="#f5a030"/>
<circle cx="467.8" cy="813.2" r="1.6" fill="#f5a030"/>
<circle cx="435.9" cy="817.3" r="1.6" fill="#f5a030"/>
<circle cx="461" cy="855.8" r="1.6" fill="#f5a030"/>
<circle cx="429.5" cy="859.3" r="1.6" fill="#f5a030"/>
<circle cx="467" cy="903.6" r="1.6" fill="#f5a030"/>
<circle cx="432" cy="909" r="1.6" fill="#f5a030"/>
<circle cx="467.6" cy="920.5" r="1.6" fill="#f5a030"/>
<circle cx="432.8" cy="925.5" r="1.6" fill="#f5a030"/>
<text x="457.6" y="784.9" font-size="9.3" fill="#1a1a1a" stroke="#1a1a1a" stroke-width="0.2" font-family="'DejaVu Sans','Liberation Sans',sans-serif">15</text>
<line x1="573.9" y1="884" x2="579.9" y2="899.3" stroke="#8490d2" stroke-width="1.7" stroke-linecap="round"/>
<line x1="573.9" y1="884" x2="570.6" y2="901.6" stroke="#8490d2" stroke-width="1.7" stroke-linecap="round"/>
<line x1="573.9" y1="884" x2="569.2" y2="866.1" stroke="#8490d2" stroke-width="1.7" stroke-linecap="round"/>
<line x1="579.9" y1="899.3" x2="602.7" y2="906.9" stroke="#8490d2" stroke-width="1.7" stroke-linecap="round"/>
<line x1="570.6" y1="901.6" x2="585.8" y2="921.2" stroke="#8490d2" stroke-width="1.7" stroke-linecap="round"/>
<line x1="569.2" y1="866.1" x2="573.9" y2="841.6" stroke="#8490d2" stroke-width="1.7" stroke-linecap="round"/>
<line x1="602.7" y1="906.9" x2="584.6" y2="961.4" stroke="#8490d2" stroke-width="1.7" stroke-linecap="round"/>
<line x1="585.8" y1="921.2" x2="572.9" y2="975.2" stroke="#8490d2" stroke-width="1.7" stroke-linecap="round"/>
<line x1="573.9" y1="841.6" x2="575.3" y2="831.3" stroke="#8490d2" stroke-width="1.7" stroke-linecap="round"/>
<line x1="584.6" y1="961.4" x2="593.7" y2="981.4" stroke="#8490d2" stroke-width="1.7" stroke-linecap="round"/>
<line x1="572.9" y1="975.2" x2="573.9" y2="996" stroke="#8490d2" stroke-width="1.7" stroke-linecap="round"/>
<line x1="575.3" y1="831.3" x2="577.8" y2="794.5" stroke="#8490d2" stroke-width="1.7" stroke-linecap="round"/>
<line x1="575.3" y1="831.3" x2="582.6" y2="810.6" stroke="#8490d2" stroke-width="1.7" stroke-linecap="round"/>
<line x1="575.3" y1="831.3" x2="570" y2="812.6" stroke="#8490d2" stroke-width="1.7" stroke-linecap="round"/>
<line x1="577.8" y1="794.5" x2="584" y2="783.4" stroke="#8490d2" stroke-width="1.7" stroke-linecap="round"/>
<line x1="582.6" y1="810.6" x2="594.5" y2="812.6" stroke="#8490d2" stroke-width="1.7" stroke-linecap="round"/>
<line x1="570" y1="812.6" x2="562.2" y2="816.7" stroke="#8490d2" stroke-width="1.7" stroke-linecap="round"/>
<line x1="594.5" y1="812.6" x2="587.8" y2="855.8" stroke="#8490d2" stroke-width="1.7" stroke-linecap="round"/>
<line x1="562.2" y1="816.7" x2="555.6" y2="859.3" stroke="#8490d2" stroke-width="1.7" stroke-linecap="round"/>
<line x1="587.8" y1="855.8" x2="593.7" y2="904.2" stroke="#8490d2" stroke-width="1.7" stroke-linecap="round"/>
<line x1="555.6" y1="859.3" x2="558.3" y2="909.5" stroke="#8490d2" stroke-width="1.7" stroke-linecap="round"/>
<line x1="593.7" y1="904.2" x2="594.5" y2="921.2" stroke="#8490d2" stroke-width="1.7" stroke-linecap="round"/>
<line x1="558.3" y1="909.5" x2="559.1" y2="926.7" stroke="#8490d2" stroke-width="1.7" stroke-linecap="round"/>
<circle cx="573.9" cy="884" r="1.6" fill="#2b3fa0"/>
<circle cx="579.9" cy="899.3" r="1.6" fill="#2b3fa0"/>
<circle cx="570.6" cy="901.6" r="1.6" fill="#2b3fa0"/>
<circle cx="569.2" cy="866.1" r="1.6" fill="#2b3fa0"/>
<circle cx="602.7" cy="906.9" r="1.6" fill="#2b3fa0"/>
<circle cx="585.8" cy="921.2" r="1.6" fill="#2b3fa0"/>
<circle cx="573.9" cy="841.6" r="1.6" fill="#2b3fa0"/>
<circle cx="584.6" cy="961.4" r="1.6" fill="#2b3fa0"/>
<circle cx="572.9" cy="975.2" r="1.6" fill="#2b3fa0"/>
<circle cx="575.3" cy="831.3" r="1.6" fill="#2b3fa0"/>
<circle cx="593.7" cy="981.4" r="1.6" fill="#2b3fa0"/>
<circle cx="573.9" cy="996" r="1.6" fill="#2b3fa0"/>
<circle cx="577.8" cy="794.5" r="1.6" fill="#2b3fa0"/>
<circle cx="582.6" cy="810.6" r="1.6" fill="#2b3fa0"/>
<circle cx="570" cy="812.6" r="1.6" fill="#2b3fa0"/>
<circle cx="584" cy="783.4" r="1.6" fill="#2b3fa0"/>
<circle cx="594.5" cy="812.6" r="1.6" fill="#2b3fa0"/>
<circle cx="562.2" cy="816.7" r="1.6" fill="#2b3fa0"/>
<circle cx="587.8" cy="855.8" r="1.6" fill="#2b3fa0"/>
<circle cx="555.6" cy="859.3" r="1.6" fill="#2b3fa0"/>
<circle cx="593.7" cy="904.2" r="1.6" fill="#2b3fa0"/>
<circle cx="558.3" cy="909.5" r="1.6" fill="#2b3fa0"/>
<circle cx="594.5" cy="921.2" r="1.6" fill="#2b3fa0"/>
<circle cx="559.1" cy="926.7" r="1.6" fill="#2b3fa0"/>
<text x="584.3" y="783.7" font-size="9.3" fill="#1a1a1a" stroke="#1a1a1a" stroke-width="0.2" font-family="'DejaVu Sans','Liberation Sans',sans-serif">15</text>
<polygon points="322.6,888.85 368.2,888.85 368.2,883.05 386.1,891.8 368.2,900.55 368.2,894.75 322.6,894.75" fill="#dcdcdc"/>
<text x="108.6" y="1071.8" text-anchor="middle" font-size="12.6" font-family="'Liberation Serif','Times New Roman',serif" font-weight="bold" fill="#111" textLength="82.5" lengthAdjust="spacingAndGlyphs" stroke="#111" stroke-width="0.35">Ground Truth</text>
<text x="108.7" y="1088.4" text-anchor="middle" font-size="12.6" font-family="'Liberation Serif','Times New Roman',serif" font-weight="bold" fill="#111" textLength="64.6" lengthAdjust="spacingAndGlyphs" stroke="#111" stroke-width="0.35">(Frame 16)</text>
<text x="237.1" y="1071.8" text-anchor="middle" font-size="12.6" font-family="'Liberation Serif','Times New Roman',serif" font-weight="bold" fill="#111" textLength="92.5" lengthAdjust="spacingAndGlyphs" stroke="#111" stroke-width="0.35">Predicted Joints</text>
<text x="237.1" y="1088.4" text-anchor="middle" font-size="12.6" font-family="'Liberation Serif','Times New Roman',serif" font-weight="bold" fill="#111" textLength="64.4" lengthAdjust="spacingAndGlyphs" stroke="#111" stroke-width="0.35">(Frame 16)</text>
<text x="467.2" y="1071.8" text-anchor="middle" font-size="12.6" font-family="'Liberation Serif','Times New Roman',serif" font-weight="bold" fill="#111" textLength="83.4" lengthAdjust="spacingAndGlyphs" stroke="#111" stroke-width="0.35">Ground Truth</text>
<text x="467.2" y="1088.4" text-anchor="middle" font-size="12.6" font-family="'Liberation Serif','Times New Roman',serif" font-weight="bold" fill="#111" textLength="65.8" lengthAdjust="spacingAndGlyphs" stroke="#111" stroke-width="0.35">(Frame 56)</text>
<text x="596" y="1071.8" text-anchor="middle" font-size="12.6" font-family="'Liberation Serif','Times New Roman',serif" font-weight="bold" fill="#111" textLength="93.5" lengthAdjust="spacingAndGlyphs" stroke="#111" stroke-width="0.35">Predicted Joints</text>
<text x="595.1" y="1088.4" text-anchor="middle" font-size="12.6" font-family="'Liberation Serif','Times New Roman',serif" font-weight="bold" fill="#111" textLength="65.8" lengthAdjust="spacingAndGlyphs" stroke="#111" stroke-width="0.35">(Frame 56)</text>
<rect x="54.2" y="1135.2" width="220.4" height="240.6" fill="#483a96"/>
<rect x="54.2" y="1295.6" width="220.4" height="10.02" fill="#463f9a"/>
<rect x="54.2" y="1135.2" width="9.23" height="10.07" fill="#ef7c50"/>
<rect x="81.75" y="1135.2" width="9.23" height="10.07" fill="#44439d"/>
<rect x="54.2" y="1145.23" width="9.23" height="10.07" fill="#43459f"/>
<rect x="63.38" y="1145.23" width="9.23" height="10.07" fill="#43459f"/>
<rect x="72.57" y="1145.23" width="9.23" height="10.07" fill="#3e50a8"/>
<rect x="81.75" y="1145.23" width="9.23" height="10.07" fill="#19b0de"/>
<rect x="90.93" y="1145.23" width="9.23" height="10.07" fill="#45419b"/>
<rect x="136.85" y="1145.23" width="9.23" height="10.07" fill="#44439d"/>
<rect x="164.4" y="1145.23" width="9.23" height="10.07" fill="#44439d"/>
<rect x="72.57" y="1155.25" width="9.23" height="10.07" fill="#f4a35e"/>
<rect x="81.75" y="1155.25" width="9.23" height="10.07" fill="#3b6dbd"/>
<rect x="81.75" y="1165.28" width="9.23" height="10.07" fill="#ea493d"/>
<rect x="63.38" y="1175.3" width="9.23" height="10.07" fill="#44439d"/>
<rect x="81.75" y="1175.3" width="9.23" height="10.07" fill="#43459f"/>
<rect x="90.93" y="1175.3" width="9.23" height="10.07" fill="#3a7ac6"/>
<rect x="118.48" y="1175.3" width="9.23" height="10.07" fill="#44439d"/>
<rect x="127.67" y="1175.3" width="9.23" height="10.07" fill="#4247a1"/>
<rect x="155.22" y="1175.3" width="9.23" height="10.07" fill="#44439d"/>
<rect x="100.12" y="1185.33" width="9.23" height="10.07" fill="#13b8df"/>
<rect x="109.3" y="1185.33" width="9.23" height="10.07" fill="#2f8ccf"/>
<rect x="173.58" y="1185.33" width="9.23" height="10.07" fill="#13b8df"/>
<rect x="100.12" y="1195.35" width="9.23" height="10.07" fill="#3b6dbd"/>
<rect x="109.3" y="1195.35" width="9.23" height="10.07" fill="#2f8ccf"/>
<rect x="173.58" y="1195.35" width="9.23" height="10.07" fill="#4dbdac"/>
<rect x="118.48" y="1205.38" width="9.23" height="10.07" fill="#3d5db1"/>
<rect x="173.58" y="1205.38" width="9.23" height="10.07" fill="#35bcc3"/>
<rect x="191.95" y="1205.38" width="9.23" height="10.07" fill="#44439d"/>
<rect x="90.93" y="1215.4" width="9.23" height="10.07" fill="#44439d"/>
<rect x="100.12" y="1215.4" width="9.23" height="10.07" fill="#44439d"/>
<rect x="109.3" y="1215.4" width="9.23" height="10.07" fill="#44439d"/>
<rect x="118.48" y="1215.4" width="9.23" height="10.07" fill="#44439d"/>
<rect x="127.67" y="1215.4" width="9.23" height="10.07" fill="#16b4de"/>
<rect x="155.22" y="1215.4" width="9.23" height="10.07" fill="#1cacdd"/>
<rect x="173.58" y="1215.4" width="9.23" height="10.07" fill="#3d58ae"/>
<rect x="72.57" y="1225.42" width="9.23" height="10.07" fill="#3a7ac6"/>
<rect x="81.75" y="1225.42" width="9.23" height="10.07" fill="#404ca4"/>
<rect x="136.85" y="1225.42" width="9.23" height="10.07" fill="#404ca4"/>
<rect x="164.4" y="1225.42" width="9.23" height="10.07" fill="#404ca4"/>
<rect x="54.2" y="1235.45" width="9.23" height="10.07" fill="#3e50a8"/>
<rect x="146.03" y="1235.45" width="9.23" height="10.07" fill="#4149a3"/>
<rect x="173.58" y="1235.45" width="9.23" height="10.07" fill="#3b6dbd"/>
<rect x="191.95" y="1235.45" width="9.23" height="10.07" fill="#3a76c3"/>
<rect x="127.67" y="1245.47" width="9.23" height="10.07" fill="#16b4de"/>
<rect x="155.22" y="1245.47" width="9.23" height="10.07" fill="#1cacdd"/>
<rect x="173.58" y="1245.47" width="9.23" height="10.07" fill="#3f4ea6"/>
<rect x="72.57" y="1255.5" width="9.23" height="10.07" fill="#2f8ccf"/>
<rect x="81.75" y="1255.5" width="9.23" height="10.07" fill="#4247a1"/>
<rect x="136.85" y="1255.5" width="9.23" height="10.07" fill="#404ca4"/>
<rect x="164.4" y="1255.5" width="9.23" height="10.07" fill="#3c61b4"/>
<rect x="173.58" y="1265.53" width="9.23" height="10.07" fill="#ef7c50"/>
<rect x="182.77" y="1275.55" width="9.23" height="10.07" fill="#3b6dbd"/>
<rect x="191.95" y="1275.55" width="9.23" height="10.07" fill="#43459f"/>
<rect x="210.32" y="1275.55" width="9.23" height="10.07" fill="#3583ca"/>
<rect x="219.5" y="1275.55" width="9.23" height="10.07" fill="#43459f"/>
<rect x="228.68" y="1275.55" width="9.23" height="10.07" fill="#3f4ea6"/>
<rect x="247.05" y="1275.55" width="9.23" height="10.07" fill="#3c69ba"/>
<rect x="265.42" y="1275.55" width="9.23" height="10.07" fill="#43459f"/>
<rect x="54.2" y="1285.58" width="9.23" height="10.07" fill="#4149a3"/>
<rect x="81.75" y="1285.58" width="9.23" height="10.07" fill="#404ca4"/>
<rect x="146.03" y="1285.58" width="9.23" height="10.07" fill="#4247a1"/>
<rect x="173.58" y="1285.58" width="9.23" height="10.07" fill="#43459f"/>
<rect x="182.77" y="1285.58" width="9.23" height="10.07" fill="#3e50a8"/>
<rect x="191.95" y="1285.58" width="9.23" height="10.07" fill="#13b8df"/>
<rect x="201.13" y="1295.6" width="9.23" height="10.07" fill="#3e50a8"/>
<rect x="182.77" y="1305.62" width="9.23" height="10.07" fill="#43459f"/>
<rect x="210.32" y="1305.62" width="9.23" height="10.07" fill="#9ec886"/>
<rect x="247.05" y="1305.62" width="9.23" height="10.07" fill="#3a7ac6"/>
<rect x="81.75" y="1315.65" width="9.23" height="10.07" fill="#4247a1"/>
<rect x="182.77" y="1315.65" width="9.23" height="10.07" fill="#3f4ea6"/>
<rect x="191.95" y="1315.65" width="9.23" height="10.07" fill="#44439d"/>
<rect x="210.32" y="1315.65" width="9.23" height="10.07" fill="#3b6dbd"/>
<rect x="228.68" y="1315.65" width="9.23" height="10.07" fill="#404ca4"/>
<rect x="247.05" y="1315.65" width="9.23" height="10.07" fill="#3a7ac6"/>
<rect x="265.42" y="1315.65" width="9.23" height="10.07" fill="#43459f"/>
<rect x="182.77" y="1325.67" width="9.23" height="10.07" fill="#43459f"/>
<rect x="210.32" y="1325.67" width="9.23" height="10.07" fill="#43459f"/>
<rect x="228.68" y="1325.67" width="9.23" height="10.07" fill="#3ebcba"/>
<rect x="247.05" y="1325.67" width="9.23" height="10.07" fill="#16b4de"/>
<rect x="265.42" y="1325.67" width="9.23" height="10.07" fill="#3e50a8"/>
<rect x="72.57" y="1335.7" width="9.23" height="10.07" fill="#3b6dbd"/>
<rect x="136.85" y="1335.7" width="9.23" height="10.07" fill="#4247a1"/>
<rect x="164.4" y="1335.7" width="9.23" height="10.07" fill="#3d58ae"/>
<rect x="237.87" y="1335.7" width="9.23" height="10.07" fill="#3b6dbd"/>
<rect x="247.05" y="1335.7" width="9.23" height="10.07" fill="#43459f"/>
<rect x="256.23" y="1335.7" width="9.23" height="10.07" fill="#43459f"/>
<rect x="210.32" y="1345.72" width="9.23" height="10.07" fill="#2f8ccf"/>
<rect x="228.68" y="1345.72" width="9.23" height="10.07" fill="#43459f"/>
<rect x="247.05" y="1345.72" width="9.23" height="10.07" fill="#7bc596"/>
<rect x="265.42" y="1345.72" width="9.23" height="10.07" fill="#43459f"/>
<rect x="182.77" y="1355.75" width="9.23" height="10.07" fill="#43459f"/>
<rect x="191.95" y="1355.75" width="9.23" height="10.07" fill="#43459f"/>
<rect x="210.32" y="1355.75" width="9.23" height="10.07" fill="#3d58ae"/>
<rect x="247.05" y="1355.75" width="9.23" height="10.07" fill="#404ca4"/>
<rect x="182.77" y="1365.78" width="9.23" height="10.07" fill="#43459f"/>
<rect x="210.32" y="1365.78" width="9.23" height="10.07" fill="#2f8ccf"/>
<rect x="228.68" y="1365.78" width="9.23" height="10.07" fill="#3c69ba"/>
<rect x="247.05" y="1365.78" width="9.23" height="10.07" fill="#48bcb0"/>
<rect x="265.42" y="1365.78" width="9.23" height="10.07" fill="#3c69ba"/>
<text x="48.6" y="1140.21" text-anchor="end" font-size="8.6" fill="#262626" font-family="'DejaVu Sans','Liberation Sans',sans-serif" dominant-baseline="central">0</text>
<text x="48.6" y="1150.24" text-anchor="end" font-size="8.6" fill="#262626" font-family="'DejaVu Sans','Liberation Sans',sans-serif" dominant-baseline="central">1</text>
<text x="48.6" y="1160.26" text-anchor="end" font-size="8.6" fill="#262626" font-family="'DejaVu Sans','Liberation Sans',sans-serif" dominant-baseline="central">2</text>
<text x="48.6" y="1170.29" text-anchor="end" font-size="8.6" fill="#262626" font-family="'DejaVu Sans','Liberation Sans',sans-serif" dominant-baseline="central">3</text>
<text x="48.6" y="1180.31" text-anchor="end" font-size="8.6" fill="#262626" font-family="'DejaVu Sans','Liberation Sans',sans-serif" dominant-baseline="central">4</text>
<text x="48.6" y="1190.34" text-anchor="end" font-size="8.6" fill="#262626" font-family="'DejaVu Sans','Liberation Sans',sans-serif" dominant-baseline="central">5</text>
<text x="48.6" y="1200.36" text-anchor="end" font-size="8.6" fill="#262626" font-family="'DejaVu Sans','Liberation Sans',sans-serif" dominant-baseline="central">6</text>
<text x="48.6" y="1210.39" text-anchor="end" font-size="8.6" fill="#262626" font-family="'DejaVu Sans','Liberation Sans',sans-serif" dominant-baseline="central">7</text>
<text x="48.6" y="1220.41" text-anchor="end" font-size="8.6" fill="#262626" font-family="'DejaVu Sans','Liberation Sans',sans-serif" dominant-baseline="central">8</text>
<text x="48.6" y="1230.44" text-anchor="end" font-size="8.6" fill="#262626" font-family="'DejaVu Sans','Liberation Sans',sans-serif" dominant-baseline="central">9</text>
<text x="48.6" y="1240.46" text-anchor="end" font-size="8.6" fill="#262626" font-family="'DejaVu Sans','Liberation Sans',sans-serif" dominant-baseline="central">10</text>
<text x="48.6" y="1250.49" text-anchor="end" font-size="8.6" fill="#262626" font-family="'DejaVu Sans','Liberation Sans',sans-serif" dominant-baseline="central">11</text>
<text x="48.6" y="1260.51" text-anchor="end" font-size="8.6" fill="#262626" font-family="'DejaVu Sans','Liberation Sans',sans-serif" dominant-baseline="central">12</text>
<text x="48.6" y="1270.54" text-anchor="end" font-size="8.6" fill="#262626" font-family="'DejaVu Sans','Liberation Sans',sans-serif" dominant-baseline="central">13</text>
<text x="48.6" y="1280.56" text-anchor="end" font-size="8.6" fill="#262626" font-family="'DejaVu Sans','Liberation Sans',sans-serif" dominant-baseline="central">14</text>
<text x="48.6" y="1290.59" text-anchor="end" font-size="8.6" fill="#262626" font-family="'DejaVu Sans','Liberation Sans',sans-serif" dominant-baseline="central">15</text>
<text x="48.6" y="1300.61" text-anchor="end" font-size="8.6" fill="#262626" font-family="'DejaVu Sans','Liberation Sans',sans-serif" dominant-baseline="central">16</text>
<text x="48.6" y="1310.64" text-anchor="end" font-size="8.6" fill="#262626" font-family="'DejaVu Sans','Liberation Sans',sans-serif" dominant-baseline="central">17</text>
<text x="48.6" y="1320.66" text-anchor="end" font-size="8.6" fill="#262626" font-family="'DejaVu Sans','Liberation Sans',sans-serif" dominant-baseline="central">18</text>
<text x="48.6" y="1330.69" text-anchor="end" font-size="8.6" fill="#262626" font-family="'DejaVu Sans','Liberation Sans',sans-serif" dominant-baseline="central">19</text>
<text x="48.6" y="1340.71" text-anchor="end" font-size="8.6" fill="#262626" font-family="'DejaVu Sans','Liberation Sans',sans-serif" dominant-baseline="central">20</text>
<text x="48.6" y="1350.74" text-anchor="end" font-size="8.6" fill="#262626" font-family="'DejaVu Sans','Liberation Sans',sans-serif" dominant-baseline="central">21</text>
<text x="48.6" y="1360.76" text-anchor="end" font-size="8.6" fill="#262626" font-family="'DejaVu Sans','Liberation Sans',sans-serif" dominant-baseline="central">22</text>
<text x="48.6" y="1370.79" text-anchor="end" font-size="8.6" fill="#262626" font-family="'DejaVu Sans','Liberation Sans',sans-serif" dominant-baseline="central">23</text>
<text x="58.79" y="1388.9" text-anchor="middle" font-size="8.6" fill="#262626" font-family="'DejaVu Sans','Liberation Sans',sans-serif">0</text>
<text x="77.16" y="1388.9" text-anchor="middle" font-size="8.6" fill="#262626" font-family="'DejaVu Sans','Liberation Sans',sans-serif">2</text>
<text x="95.53" y="1388.9" text-anchor="middle" font-size="8.6" fill="#262626" font-family="'DejaVu Sans','Liberation Sans',sans-serif">4</text>
<text x="113.89" y="1388.9" text-anchor="middle" font-size="8.6" fill="#262626" font-family="'DejaVu Sans','Liberation Sans',sans-serif">6</text>
<text x="132.26" y="1388.9" text-anchor="middle" font-size="8.6" fill="#262626" font-family="'DejaVu Sans','Liberation Sans',sans-serif">8</text>
<text x="150.63" y="1388.9" text-anchor="middle" font-size="8.6" fill="#262626" font-family="'DejaVu Sans','Liberation Sans',sans-serif">10</text>
<text x="168.99" y="1388.9" text-anchor="middle" font-size="8.6" fill="#262626" font-family="'DejaVu Sans','Liberation Sans',sans-serif">12</text>
<text x="187.36" y="1388.9" text-anchor="middle" font-size="8.6" fill="#262626" font-family="'DejaVu Sans','Liberation Sans',sans-serif">14</text>
<text x="205.73" y="1388.9" text-anchor="middle" font-size="8.6" fill="#262626" font-family="'DejaVu Sans','Liberation Sans',sans-serif">16</text>
<text x="224.09" y="1388.9" text-anchor="middle" font-size="8.6" fill="#262626" font-family="'DejaVu Sans','Liberation Sans',sans-serif">18</text>
<text x="242.46" y="1388.9" text-anchor="middle" font-size="8.6" fill="#262626" font-family="'DejaVu Sans','Liberation Sans',sans-serif">20</text>
<text x="260.83" y="1388.9" text-anchor="middle" font-size="8.6" fill="#262626" font-family="'DejaVu Sans','Liberation Sans',sans-serif">22</text>
<text x="164.4" y="1400.3" text-anchor="middle" font-size="9.8" font-family="'DejaVu Sans','Liberation Sans',sans-serif" font-weight="normal" fill="#333">Joint</text>
<text transform="translate(33.3 1255.9) rotate(-90)" text-anchor="middle" font-size="9.8" fill="#333" font-family="'DejaVu Sans','Liberation Sans',sans-serif">Joint</text>
<text x="164.7" y="1131.8" text-anchor="middle" font-size="9.6" font-family="'DejaVu Sans','Liberation Sans',sans-serif" font-weight="normal" fill="#333" textLength="90.6" lengthAdjust="spacingAndGlyphs">Frame 16 (Head 1)</text>
<rect x="288.5" y="1135.2" width="11.6" height="240.6" fill="url(#g1)"/>
<line x1="300.1" y1="1375.8" x2="302.6" y2="1375.8" stroke="#262626" stroke-width="0.8"/>
<text x="305.2" y="1375.8" font-size="8.6" fill="#262626" font-family="'DejaVu Sans','Liberation Sans',sans-serif" dominant-baseline="central">0.0</text>
<line x1="300.1" y1="1327.68" x2="302.6" y2="1327.68" stroke="#262626" stroke-width="0.8"/>
<text x="305.2" y="1327.68" font-size="8.6" fill="#262626" font-family="'DejaVu Sans','Liberation Sans',sans-serif" dominant-baseline="central">0.2</text>
<line x1="300.1" y1="1279.56" x2="302.6" y2="1279.56" stroke="#262626" stroke-width="0.8"/>
<text x="305.2" y="1279.56" font-size="8.6" fill="#262626" font-family="'DejaVu Sans','Liberation Sans',sans-serif" dominant-baseline="central">0.4</text>
<line x1="300.1" y1="1231.44" x2="302.6" y2="1231.44" stroke="#262626" stroke-width="0.8"/>
<text x="305.2" y="1231.44" font-size="8.6" fill="#262626" font-family="'DejaVu Sans','Liberation Sans',sans-serif" dominant-baseline="central">0.6</text>
<line x1="300.1" y1="1183.32" x2="302.6" y2="1183.32" stroke="#262626" stroke-width="0.8"/>
<text x="305.2" y="1183.32" font-size="8.6" fill="#262626" font-family="'DejaVu Sans','Liberation Sans',sans-serif" dominant-baseline="central">0.8</text>
<line x1="300.1" y1="1135.2" x2="302.6" y2="1135.2" stroke="#262626" stroke-width="0.8"/>
<text x="305.2" y="1135.2" font-size="8.6" fill="#262626" font-family="'DejaVu Sans','Liberation Sans',sans-serif" dominant-baseline="central">1.0</text>
<text x="170" y="1423.4" text-anchor="middle" font-size="13.6" font-family="'Liberation Serif','Times New Roman',serif" font-weight="bold" fill="#111" textLength="176.6" lengthAdjust="spacingAndGlyphs" stroke="#111" stroke-width="0.35">Spatial Self-Attention Weights</text>
<rect x="385.1" y="1135.2" width="219.9" height="241.1" fill="#6cc4c0"/>
<rect x="426.33" y="1180.41" width="3.49" height="3.82" fill="#a848a0"/>
<rect x="426.33" y="1282.12" width="3.49" height="3.82" fill="#8c50a8"/>
<rect x="426.33" y="1267.05" width="3.49" height="3.82" fill="#56bed3"/>
<rect x="426.33" y="1274.59" width="3.49" height="3.82" fill="#56bed3"/>
<rect x="426.33" y="1304.72" width="3.49" height="3.82" fill="#5bbfce"/>
<rect x="426.33" y="1342.4" width="3.49" height="3.82" fill="#4abbdb"/>
<rect x="426.33" y="1361.23" width="3.49" height="3.82" fill="#30b8e8"/>
<rect x="426.33" y="1146.5" width="3.49" height="3.82" fill="#5ec0cc"/>
<rect x="426.33" y="1169.1" width="3.49" height="3.82" fill="#5ec0cc"/>
<rect x="426.33" y="1206.78" width="3.49" height="3.82" fill="#5bbfce"/>
<rect x="426.33" y="1229.38" width="3.49" height="3.82" fill="#5ec0cc"/>
<rect x="440.08" y="1150.27" width="3.49" height="3.82" fill="#35b3e5"/>
<rect x="440.08" y="1154.04" width="3.49" height="3.82" fill="#6070b8"/>
<rect x="440.08" y="1157.8" width="3.49" height="3.82" fill="#4abbdb"/>
<rect x="440.08" y="1169.1" width="3.49" height="3.82" fill="#56bed3"/>
<rect x="440.08" y="1184.17" width="3.49" height="3.82" fill="#40bae0"/>
<rect x="440.08" y="1191.71" width="3.49" height="3.82" fill="#7858a8"/>
<rect x="440.08" y="1195.47" width="3.49" height="3.82" fill="#a848a0"/>
<rect x="440.08" y="1199.24" width="3.49" height="3.82" fill="#50bcd8"/>
<rect x="440.08" y="1206.78" width="3.49" height="3.82" fill="#35b3e5"/>
<rect x="440.08" y="1214.31" width="3.49" height="3.82" fill="#50bcd8"/>
<rect x="440.08" y="1218.08" width="3.49" height="3.82" fill="#6070b8"/>
<rect x="440.08" y="1221.85" width="3.49" height="3.82" fill="#50bcd8"/>
<rect x="440.08" y="1240.68" width="3.49" height="3.82" fill="#35b3e5"/>
<rect x="440.08" y="1244.45" width="3.49" height="3.82" fill="#56bed3"/>
<rect x="440.08" y="1267.05" width="3.49" height="3.82" fill="#6070b8"/>
<rect x="440.08" y="1270.82" width="3.49" height="3.82" fill="#4abbdb"/>
<rect x="440.08" y="1274.59" width="3.49" height="3.82" fill="#4abbdb"/>
<rect x="440.08" y="1278.35" width="3.49" height="3.82" fill="#30b8e8"/>
<rect x="440.08" y="1285.89" width="3.49" height="3.82" fill="#8254a8"/>
<rect x="440.08" y="1304.72" width="3.49" height="3.82" fill="#40bae0"/>
<rect x="440.08" y="1308.49" width="3.49" height="3.82" fill="#56bed3"/>
<rect x="440.08" y="1316.03" width="3.49" height="3.82" fill="#6568b4"/>
<rect x="440.08" y="1323.56" width="3.49" height="3.82" fill="#30b8e8"/>
<rect x="440.08" y="1361.23" width="3.49" height="3.82" fill="#6070b8"/>
<rect x="440.08" y="1368.77" width="3.49" height="3.82" fill="#4abbdb"/>
<rect x="440.08" y="1135.2" width="3.49" height="3.82" fill="#5bbfce"/>
<rect x="440.08" y="1142.73" width="3.49" height="3.82" fill="#5bbfce"/>
<rect x="460.69" y="1150.27" width="3.49" height="3.82" fill="#56bed3"/>
<rect x="464.13" y="1150.27" width="3.49" height="3.82" fill="#50bcd8"/>
<rect x="460.69" y="1154.04" width="3.49" height="3.82" fill="#56bed3"/>
<rect x="464.13" y="1154.04" width="3.49" height="3.82" fill="#50bcd8"/>
<rect x="460.69" y="1157.8" width="3.49" height="3.82" fill="#56bed3"/>
<rect x="464.13" y="1157.8" width="3.49" height="3.82" fill="#50bcd8"/>
<rect x="460.69" y="1169.1" width="3.49" height="3.82" fill="#56bed3"/>
<rect x="464.13" y="1169.1" width="3.49" height="3.82" fill="#30b8e8"/>
<rect x="460.69" y="1176.64" width="3.49" height="3.82" fill="#56bed3"/>
<rect x="464.13" y="1176.64" width="3.49" height="3.82" fill="#50bcd8"/>
<rect x="460.69" y="1184.17" width="3.49" height="3.82" fill="#56bed3"/>
<rect x="464.13" y="1184.17" width="3.49" height="3.82" fill="#30b8e8"/>
<rect x="460.69" y="1191.71" width="3.49" height="3.82" fill="#56bed3"/>
<rect x="464.13" y="1191.71" width="3.49" height="3.82" fill="#50bcd8"/>
<rect x="460.69" y="1199.24" width="3.49" height="3.82" fill="#56bed3"/>
<rect x="464.13" y="1199.24" width="3.49" height="3.82" fill="#30b8e8"/>
<rect x="460.69" y="1206.78" width="3.49" height="3.82" fill="#56bed3"/>
<rect x="464.13" y="1206.78" width="3.49" height="3.82" fill="#30b8e8"/>
<rect x="460.69" y="1214.31" width="3.49" height="3.82" fill="#56bed3"/>
<rect x="464.13" y="1214.31" width="3.49" height="3.82" fill="#30b8e8"/>
<rect x="460.69" y="1218.08" width="3.49" height="3.82" fill="#56bed3"/>
<rect x="464.13" y="1218.08" width="3.49" height="3.82" fill="#30b8e8"/>
<rect x="460.69" y="1221.85" width="3.49" height="3.82" fill="#56bed3"/>
<rect x="464.13" y="1221.85" width="3.49" height="3.82" fill="#5094d0"/>
<rect x="460.69" y="1240.68" width="3.49" height="3.82" fill="#56bed3"/>
<rect x="464.13" y="1240.68" width="3.49" height="3.82" fill="#50bcd8"/>
<rect x="460.69" y="1244.45" width="3.49" height="3.82" fill="#56bed3"/>
<rect x="464.13" y="1244.45" width="3.49" height="3.82" fill="#50bcd8"/>
<rect x="460.69" y="1259.52" width="3.49" height="3.82" fill="#56bed3"/>
<rect x="464.13" y="1259.52" width="3.49" height="3.82" fill="#50bcd8"/>
<rect x="460.69" y="1263.28" width="3.49" height="3.82" fill="#56bed3"/>
<rect x="464.13" y="1263.28" width="3.49" height="3.82" fill="#50bcd8"/>
<rect x="460.69" y="1267.05" width="3.49" height="3.82" fill="#56bed3"/>
<rect x="464.13" y="1267.05" width="3.49" height="3.82" fill="#50bcd8"/>
<rect x="460.69" y="1270.82" width="3.49" height="3.82" fill="#56bed3"/>
<rect x="464.13" y="1270.82" width="3.49" height="3.82" fill="#50bcd8"/>
<rect x="460.69" y="1274.59" width="3.49" height="3.82" fill="#56bed3"/>
<rect x="464.13" y="1274.59" width="3.49" height="3.82" fill="#30b8e8"/>
<rect x="460.69" y="1304.72" width="3.49" height="3.82" fill="#56bed3"/>
<rect x="464.13" y="1304.72" width="3.49" height="3.82" fill="#30b8e8"/>
<rect x="460.69" y="1308.49" width="3.49" height="3.82" fill="#56bed3"/>
<rect x="464.13" y="1308.49" width="3.49" height="3.82" fill="#50bcd8"/>
<rect x="460.69" y="1312.26" width="3.49" height="3.82" fill="#56bed3"/>
<rect x="464.13" y="1312.26" width="3.49" height="3.82" fill="#30b8e8"/>
<rect x="460.69" y="1316.03" width="3.49" height="3.82" fill="#56bed3"/>
<rect x="464.13" y="1316.03" width="3.49" height="3.82" fill="#50bcd8"/>
<rect x="460.69" y="1319.79" width="3.49" height="3.82" fill="#56bed3"/>
<rect x="464.13" y="1319.79" width="3.49" height="3.82" fill="#30b8e8"/>
<rect x="460.69" y="1323.56" width="3.49" height="3.82" fill="#56bed3"/>
<rect x="464.13" y="1323.56" width="3.49" height="3.82" fill="#50bcd8"/>
<rect x="460.69" y="1338.63" width="3.49" height="3.82" fill="#56bed3"/>
<rect x="464.13" y="1338.63" width="3.49" height="3.82" fill="#50bcd8"/>
<rect x="460.69" y="1342.4" width="3.49" height="3.82" fill="#56bed3"/>
<rect x="464.13" y="1342.4" width="3.49" height="3.82" fill="#50bcd8"/>
<rect x="460.69" y="1346.16" width="3.49" height="3.82" fill="#56bed3"/>
<rect x="464.13" y="1346.16" width="3.49" height="3.82" fill="#50bcd8"/>
<rect x="460.69" y="1361.23" width="3.49" height="3.82" fill="#56bed3"/>
<rect x="464.13" y="1361.23" width="3.49" height="3.82" fill="#50bcd8"/>
<rect x="460.69" y="1365" width="3.49" height="3.82" fill="#56bed3"/>
<rect x="464.13" y="1365" width="3.49" height="3.82" fill="#50bcd8"/>
<rect x="460.69" y="1368.77" width="3.49" height="3.82" fill="#56bed3"/>
<rect x="464.13" y="1368.77" width="3.49" height="3.82" fill="#30b8e8"/>
<rect x="467.56" y="1225.61" width="3.49" height="3.82" fill="#8852a8"/>
<rect x="467.56" y="1353.7" width="3.49" height="3.82" fill="#30b8e8"/>
<rect x="467.56" y="1135.2" width="3.49" height="3.82" fill="#5bbfce"/>
<rect x="453.82" y="1210.54" width="3.49" height="3.82" fill="#43a5db"/>
<rect x="453.82" y="1138.97" width="3.49" height="3.82" fill="#5bbfce"/>
<rect x="453.82" y="1142.73" width="3.49" height="3.82" fill="#5bbfce"/>
<rect x="453.82" y="1172.87" width="3.49" height="3.82" fill="#56bed3"/>
<rect x="453.82" y="1312.26" width="3.49" height="3.82" fill="#56bed3"/>
<rect x="446.95" y="1203.01" width="3.49" height="3.82" fill="#56bed3"/>
<rect x="446.95" y="1289.65" width="3.49" height="3.82" fill="#56bed3"/>
<rect x="529.41" y="1135.2" width="3.49" height="3.82" fill="#30b8e8"/>
<rect x="529.41" y="1138.97" width="3.49" height="3.82" fill="#6070b8"/>
<rect x="529.41" y="1142.73" width="3.49" height="3.82" fill="#30b8e8"/>
<rect x="529.41" y="1161.57" width="3.49" height="3.82" fill="#58bed1"/>
<rect x="529.41" y="1165.34" width="3.49" height="3.82" fill="#58bed1"/>
<rect x="529.41" y="1172.87" width="3.49" height="3.82" fill="#58bed1"/>
<rect x="529.41" y="1176.64" width="3.49" height="3.82" fill="#48a0d8"/>
<rect x="529.41" y="1187.94" width="3.49" height="3.82" fill="#30b8e8"/>
<rect x="529.41" y="1203.01" width="3.49" height="3.82" fill="#a348a0"/>
<rect x="529.41" y="1210.54" width="3.49" height="3.82" fill="#7858a8"/>
<rect x="529.41" y="1229.38" width="3.49" height="3.82" fill="#6a60b0"/>
<rect x="529.41" y="1233.15" width="3.49" height="3.82" fill="#6568b4"/>
<rect x="529.41" y="1236.91" width="3.49" height="3.82" fill="#30b8e8"/>
<rect x="529.41" y="1248.22" width="3.49" height="3.82" fill="#30b8e8"/>
<rect x="529.41" y="1251.98" width="3.49" height="3.82" fill="#8254a8"/>
<rect x="529.41" y="1255.75" width="3.49" height="3.82" fill="#6070b8"/>
<rect x="529.41" y="1259.52" width="3.49" height="3.82" fill="#50bcd8"/>
<rect x="529.41" y="1293.42" width="3.49" height="3.82" fill="#a848a0"/>
<rect x="529.41" y="1297.19" width="3.49" height="3.82" fill="#8852a8"/>
<rect x="529.41" y="1300.96" width="3.49" height="3.82" fill="#7c56a8"/>
<rect x="529.41" y="1304.72" width="3.49" height="3.82" fill="#56bed3"/>
<rect x="529.41" y="1308.49" width="3.49" height="3.82" fill="#30b8e8"/>
<rect x="529.41" y="1316.03" width="3.49" height="3.82" fill="#50bcd8"/>
<rect x="529.41" y="1323.56" width="3.49" height="3.82" fill="#58bed1"/>
<rect x="529.41" y="1331.09" width="3.49" height="3.82" fill="#30b8e8"/>
<rect x="529.41" y="1334.86" width="3.49" height="3.82" fill="#30b8e8"/>
<rect x="529.41" y="1338.63" width="3.49" height="3.82" fill="#30b8e8"/>
<rect x="529.41" y="1349.93" width="3.49" height="3.82" fill="#6568b4"/>
<rect x="529.41" y="1353.7" width="3.49" height="3.82" fill="#56bed3"/>
<rect x="529.41" y="1357.46" width="3.49" height="3.82" fill="#5c7cc0"/>
<rect x="529.41" y="1372.53" width="3.49" height="3.82" fill="#30b8e8"/>
<rect x="525.97" y="1135.2" width="3.49" height="3.82" fill="#56bed3"/>
<rect x="525.97" y="1161.57" width="3.49" height="3.82" fill="#4abbdb"/>
<rect x="525.97" y="1289.65" width="3.49" height="3.82" fill="#904ea6"/>
<rect x="525.97" y="1334.86" width="3.49" height="3.82" fill="#56bed3"/>
<rect x="525.97" y="1353.7" width="3.49" height="3.82" fill="#4abbdb"/>
<rect x="532.85" y="1135.2" width="3.49" height="3.82" fill="#56bed3"/>
<rect x="532.85" y="1297.19" width="3.49" height="3.82" fill="#5888c8"/>
<rect x="532.85" y="1334.86" width="3.49" height="3.82" fill="#48a0d8"/>
<rect x="532.85" y="1353.7" width="3.49" height="3.82" fill="#3cace0"/>
<rect x="522.54" y="1285.89" width="3.49" height="3.82" fill="#48a0d8"/>
<rect x="522.54" y="1300.96" width="3.49" height="3.82" fill="#50bcd8"/>
<rect x="522.54" y="1154.04" width="3.49" height="3.82" fill="#5bbfce"/>
<rect x="522.54" y="1184.17" width="3.49" height="3.82" fill="#5bbfce"/>
<rect x="522.54" y="1191.71" width="3.49" height="3.82" fill="#56bed3"/>
<rect x="522.54" y="1206.78" width="3.49" height="3.82" fill="#5bbfce"/>
<rect x="522.54" y="1240.68" width="3.49" height="3.82" fill="#5bbfce"/>
<rect x="522.54" y="1263.28" width="3.49" height="3.82" fill="#5bbfce"/>
<rect x="522.54" y="1270.82" width="3.49" height="3.82" fill="#5bbfce"/>
<rect x="522.54" y="1278.35" width="3.49" height="3.82" fill="#5bbfce"/>
<rect x="522.54" y="1316.03" width="3.49" height="3.82" fill="#5bbfce"/>
<rect x="522.54" y="1342.4" width="3.49" height="3.82" fill="#5bbfce"/>
<rect x="515.67" y="1150.27" width="3.49" height="3.82" fill="#5bbfce"/>
<rect x="515.67" y="1154.04" width="3.49" height="3.82" fill="#5bbfce"/>
<rect x="515.67" y="1157.8" width="3.49" height="3.82" fill="#5bbfce"/>
<rect x="515.67" y="1169.1" width="3.49" height="3.82" fill="#56bed3"/>
<rect x="515.67" y="1184.17" width="3.49" height="3.82" fill="#5bbfce"/>
<rect x="515.67" y="1191.71" width="3.49" height="3.82" fill="#5bbfce"/>
<rect x="515.67" y="1199.24" width="3.49" height="3.82" fill="#5bbfce"/>
<rect x="515.67" y="1206.78" width="3.49" height="3.82" fill="#5bbfce"/>
<rect x="515.67" y="1214.31" width="3.49" height="3.82" fill="#5bbfce"/>
<rect x="515.67" y="1221.85" width="3.49" height="3.82" fill="#5bbfce"/>
<rect x="515.67" y="1240.68" width="3.49" height="3.82" fill="#5bbfce"/>
<rect x="515.67" y="1263.28" width="3.49" height="3.82" fill="#5bbfce"/>
<rect x="515.67" y="1267.05" width="3.49" height="3.82" fill="#5bbfce"/>
<rect x="515.67" y="1270.82" width="3.49" height="3.82" fill="#5bbfce"/>
<rect x="515.67" y="1274.59" width="3.49" height="3.82" fill="#5bbfce"/>
<rect x="515.67" y="1278.35" width="3.49" height="3.82" fill="#30b8e8"/>
<rect x="515.67" y="1304.72" width="3.49" height="3.82" fill="#5bbfce"/>
<rect x="515.67" y="1312.26" width="3.49" height="3.82" fill="#5bbfce"/>
<rect x="515.67" y="1319.79" width="3.49" height="3.82" fill="#5bbfce"/>
<rect x="515.67" y="1365" width="3.49" height="3.82" fill="#5bbfce"/>
<rect x="515.67" y="1368.77" width="3.49" height="3.82" fill="#5bbfce"/>
<rect x="577.51" y="1138.97" width="3.49" height="3.82" fill="#30b8e8"/>
<rect x="577.51" y="1142.73" width="3.49" height="3.82" fill="#5094d0"/>
<rect x="577.51" y="1157.8" width="3.49" height="3.82" fill="#5094d0"/>
<rect x="577.51" y="1165.34" width="3.49" height="3.82" fill="#4d99d3"/>
<rect x="577.51" y="1172.87" width="3.49" height="3.82" fill="#4abbdb"/>
<rect x="577.51" y="1176.64" width="3.49" height="3.82" fill="#6070b8"/>
<rect x="577.51" y="1184.17" width="3.49" height="3.82" fill="#30b8e8"/>
<rect x="577.51" y="1187.94" width="3.49" height="3.82" fill="#7858a8"/>
<rect x="577.51" y="1199.24" width="3.49" height="3.82" fill="#35b3e5"/>
<rect x="577.51" y="1210.54" width="3.49" height="3.82" fill="#30b8e8"/>
<rect x="577.51" y="1214.31" width="3.49" height="3.82" fill="#30b8e8"/>
<rect x="577.51" y="1218.08" width="3.49" height="3.82" fill="#30b8e8"/>
<rect x="577.51" y="1221.85" width="3.49" height="3.82" fill="#5888c8"/>
<rect x="577.51" y="1229.38" width="3.49" height="3.82" fill="#6568b4"/>
<rect x="577.51" y="1233.15" width="3.49" height="3.82" fill="#558dcb"/>
<rect x="577.51" y="1236.91" width="3.49" height="3.82" fill="#6070b8"/>
<rect x="577.51" y="1244.45" width="3.49" height="3.82" fill="#30b8e8"/>
<rect x="577.51" y="1248.22" width="3.49" height="3.82" fill="#8254a8"/>
<rect x="577.51" y="1251.98" width="3.49" height="3.82" fill="#50bcd8"/>
<rect x="577.51" y="1259.52" width="3.49" height="3.82" fill="#6070b8"/>
<rect x="577.51" y="1267.05" width="3.49" height="3.82" fill="#3cace0"/>
<rect x="577.51" y="1274.59" width="3.49" height="3.82" fill="#56bed3"/>
<rect x="577.51" y="1300.96" width="3.49" height="3.82" fill="#30b8e8"/>
<rect x="577.51" y="1304.72" width="3.49" height="3.82" fill="#30b8e8"/>
<rect x="577.51" y="1308.49" width="3.49" height="3.82" fill="#6568b4"/>
<rect x="577.51" y="1312.26" width="3.49" height="3.82" fill="#30b8e8"/>
<rect x="577.51" y="1316.03" width="3.49" height="3.82" fill="#904ea6"/>
<rect x="577.51" y="1323.56" width="3.49" height="3.82" fill="#626db6"/>
<rect x="577.51" y="1331.09" width="3.49" height="3.82" fill="#626db6"/>
<rect x="577.51" y="1338.63" width="3.49" height="3.82" fill="#6070b8"/>
<rect x="577.51" y="1346.16" width="3.49" height="3.82" fill="#a848a0"/>
<rect x="577.51" y="1349.93" width="3.49" height="3.82" fill="#56bed3"/>
<rect x="577.51" y="1357.46" width="3.49" height="3.82" fill="#35b3e5"/>
<rect x="577.51" y="1365" width="3.49" height="3.82" fill="#30b8e8"/>
<rect x="577.51" y="1368.77" width="3.49" height="3.82" fill="#30b8e8"/>
<rect x="577.51" y="1372.53" width="3.49" height="3.82" fill="#6568b4"/>
<rect x="577.51" y="1135.2" width="3.49" height="3.82" fill="#5bbfce"/>
<rect x="577.51" y="1146.5" width="3.49" height="3.82" fill="#5bbfce"/>
<rect x="577.51" y="1150.27" width="3.49" height="3.82" fill="#56bed3"/>
<rect x="577.51" y="1154.04" width="3.49" height="3.82" fill="#5bbfce"/>
<rect x="574.08" y="1342.4" width="3.49" height="3.82" fill="#558dcb"/>
<rect x="584.38" y="1135.2" width="3.49" height="3.82" fill="#56bed3"/>
<rect x="584.38" y="1161.57" width="3.49" height="3.82" fill="#5bbfce"/>
<rect x="584.38" y="1225.61" width="3.49" height="3.82" fill="#40bae0"/>
<rect x="584.38" y="1334.86" width="3.49" height="3.82" fill="#5bbfce"/>
<rect x="584.38" y="1353.7" width="3.49" height="3.82" fill="#35b3e5"/>
<rect x="567.2" y="1334.86" width="3.49" height="3.82" fill="#5bbfce"/>
<text x="379.9" y="1137.08" text-anchor="end" font-size="8.6" fill="#262626" font-family="'DejaVu Sans','Liberation Sans',sans-serif" dominant-baseline="central">0</text>
<text x="379.9" y="1148.39" text-anchor="end" font-size="8.6" fill="#262626" font-family="'DejaVu Sans','Liberation Sans',sans-serif" dominant-baseline="central">3</text>
<text x="379.9" y="1159.69" text-anchor="end" font-size="8.6" fill="#262626" font-family="'DejaVu Sans','Liberation Sans',sans-serif" dominant-baseline="central">6</text>
<text x="379.9" y="1170.99" text-anchor="end" font-size="8.6" fill="#262626" font-family="'DejaVu Sans','Liberation Sans',sans-serif" dominant-baseline="central">9</text>
<text x="379.9" y="1182.29" text-anchor="end" font-size="8.6" fill="#262626" font-family="'DejaVu Sans','Liberation Sans',sans-serif" dominant-baseline="central">12</text>
<text x="379.9" y="1193.59" text-anchor="end" font-size="8.6" fill="#262626" font-family="'DejaVu Sans','Liberation Sans',sans-serif" dominant-baseline="central">15</text>
<text x="379.9" y="1204.89" text-anchor="end" font-size="8.6" fill="#262626" font-family="'DejaVu Sans','Liberation Sans',sans-serif" dominant-baseline="central">18</text>
<text x="379.9" y="1216.19" text-anchor="end" font-size="8.6" fill="#262626" font-family="'DejaVu Sans','Liberation Sans',sans-serif" dominant-baseline="central">21</text>
<text x="379.9" y="1227.5" text-anchor="end" font-size="8.6" fill="#262626" font-family="'DejaVu Sans','Liberation Sans',sans-serif" dominant-baseline="central">24</text>
<text x="379.9" y="1238.8" text-anchor="end" font-size="8.6" fill="#262626" font-family="'DejaVu Sans','Liberation Sans',sans-serif" dominant-baseline="central">27</text>
<text x="379.9" y="1250.1" text-anchor="end" font-size="8.6" fill="#262626" font-family="'DejaVu Sans','Liberation Sans',sans-serif" dominant-baseline="central">30</text>
<text x="379.9" y="1261.4" text-anchor="end" font-size="8.6" fill="#262626" font-family="'DejaVu Sans','Liberation Sans',sans-serif" dominant-baseline="central">33</text>
<text x="379.9" y="1272.7" text-anchor="end" font-size="8.6" fill="#262626" font-family="'DejaVu Sans','Liberation Sans',sans-serif" dominant-baseline="central">36</text>
<text x="379.9" y="1284" text-anchor="end" font-size="8.6" fill="#262626" font-family="'DejaVu Sans','Liberation Sans',sans-serif" dominant-baseline="central">39</text>
<text x="379.9" y="1295.31" text-anchor="end" font-size="8.6" fill="#262626" font-family="'DejaVu Sans','Liberation Sans',sans-serif" dominant-baseline="central">42</text>
<text x="379.9" y="1306.61" text-anchor="end" font-size="8.6" fill="#262626" font-family="'DejaVu Sans','Liberation Sans',sans-serif" dominant-baseline="central">45</text>
<text x="379.9" y="1317.91" text-anchor="end" font-size="8.6" fill="#262626" font-family="'DejaVu Sans','Liberation Sans',sans-serif" dominant-baseline="central">48</text>
<text x="379.9" y="1329.21" text-anchor="end" font-size="8.6" fill="#262626" font-family="'DejaVu Sans','Liberation Sans',sans-serif" dominant-baseline="central">51</text>
<text x="379.9" y="1340.51" text-anchor="end" font-size="8.6" fill="#262626" font-family="'DejaVu Sans','Liberation Sans',sans-serif" dominant-baseline="central">54</text>
<text x="379.9" y="1351.81" text-anchor="end" font-size="8.6" fill="#262626" font-family="'DejaVu Sans','Liberation Sans',sans-serif" dominant-baseline="central">57</text>
<text x="379.9" y="1363.11" text-anchor="end" font-size="8.6" fill="#262626" font-family="'DejaVu Sans','Liberation Sans',sans-serif" dominant-baseline="central">60</text>
<text x="379.9" y="1374.42" text-anchor="end" font-size="8.6" fill="#262626" font-family="'DejaVu Sans','Liberation Sans',sans-serif" dominant-baseline="central">63</text>
<text transform="translate(386.82 1382.8) rotate(-90)" text-anchor="end" font-size="8.6" fill="#262626" font-family="'DejaVu Sans','Liberation Sans',sans-serif" dominant-baseline="central">0</text>
<text transform="translate(397.13 1382.8) rotate(-90)" text-anchor="end" font-size="8.6" fill="#262626" font-family="'DejaVu Sans','Liberation Sans',sans-serif" dominant-baseline="central">3</text>
<text transform="translate(407.43 1382.8) rotate(-90)" text-anchor="end" font-size="8.6" fill="#262626" font-family="'DejaVu Sans','Liberation Sans',sans-serif" dominant-baseline="central">6</text>
<text transform="translate(417.74 1382.8) rotate(-90)" text-anchor="end" font-size="8.6" fill="#262626" font-family="'DejaVu Sans','Liberation Sans',sans-serif" dominant-baseline="central">9</text>
<text transform="translate(428.05 1382.8) rotate(-90)" text-anchor="end" font-size="8.6" fill="#262626" font-family="'DejaVu Sans','Liberation Sans',sans-serif" dominant-baseline="central">12</text>
<text transform="translate(438.36 1382.8) rotate(-90)" text-anchor="end" font-size="8.6" fill="#262626" font-family="'DejaVu Sans','Liberation Sans',sans-serif" dominant-baseline="central">15</text>
<text transform="translate(448.66 1382.8) rotate(-90)" text-anchor="end" font-size="8.6" fill="#262626" font-family="'DejaVu Sans','Liberation Sans',sans-serif" dominant-baseline="central">18</text>
<text transform="translate(458.97 1382.8) rotate(-90)" text-anchor="end" font-size="8.6" fill="#262626" font-family="'DejaVu Sans','Liberation Sans',sans-serif" dominant-baseline="central">21</text>
<text transform="translate(469.28 1382.8) rotate(-90)" text-anchor="end" font-size="8.6" fill="#262626" font-family="'DejaVu Sans','Liberation Sans',sans-serif" dominant-baseline="central">24</text>
<text transform="translate(479.59 1382.8) rotate(-90)" text-anchor="end" font-size="8.6" fill="#262626" font-family="'DejaVu Sans','Liberation Sans',sans-serif" dominant-baseline="central">27</text>
<text transform="translate(489.9 1382.8) rotate(-90)" text-anchor="end" font-size="8.6" fill="#262626" font-family="'DejaVu Sans','Liberation Sans',sans-serif" dominant-baseline="central">30</text>
<text transform="translate(500.2 1382.8) rotate(-90)" text-anchor="end" font-size="8.6" fill="#262626" font-family="'DejaVu Sans','Liberation Sans',sans-serif" dominant-baseline="central">33</text>
<text transform="translate(510.51 1382.8) rotate(-90)" text-anchor="end" font-size="8.6" fill="#262626" font-family="'DejaVu Sans','Liberation Sans',sans-serif" dominant-baseline="central">36</text>
<text transform="translate(520.82 1382.8) rotate(-90)" text-anchor="end" font-size="8.6" fill="#262626" font-family="'DejaVu Sans','Liberation Sans',sans-serif" dominant-baseline="central">39</text>
<text transform="translate(531.13 1382.8) rotate(-90)" text-anchor="end" font-size="8.6" fill="#262626" font-family="'DejaVu Sans','Liberation Sans',sans-serif" dominant-baseline="central">42</text>
<text transform="translate(541.44 1382.8) rotate(-90)" text-anchor="end" font-size="8.6" fill="#262626" font-family="'DejaVu Sans','Liberation Sans',sans-serif" dominant-baseline="central">45</text>
<text transform="translate(551.74 1382.8) rotate(-90)" text-anchor="end" font-size="8.6" fill="#262626" font-family="'DejaVu Sans','Liberation Sans',sans-serif" dominant-baseline="central">48</text>
<text transform="translate(562.05 1382.8) rotate(-90)" text-anchor="end" font-size="8.6" fill="#262626" font-family="'DejaVu Sans','Liberation Sans',sans-serif" dominant-baseline="central">51</text>
<text transform="translate(572.36 1382.8) rotate(-90)" text-anchor="end" font-size="8.6" fill="#262626" font-family="'DejaVu Sans','Liberation Sans',sans-serif" dominant-baseline="central">54</text>
<text transform="translate(582.67 1382.8) rotate(-90)" text-anchor="end" font-size="8.6" fill="#262626" font-family="'DejaVu Sans','Liberation Sans',sans-serif" dominant-baseline="central">57</text>
<text transform="translate(592.97 1382.8) rotate(-90)" text-anchor="end" font-size="8.6" fill="#262626" font-family="'DejaVu Sans','Liberation Sans',sans-serif" dominant-baseline="central">60</text>
<text transform="translate(603.28 1382.8) rotate(-90)" text-anchor="end" font-size="8.6" fill="#262626" font-family="'DejaVu Sans','Liberation Sans',sans-serif" dominant-baseline="central">63</text>
<text x="495" y="1403.5" text-anchor="middle" font-size="9.8" font-family="'DejaVu Sans','Liberation Sans',sans-serif" font-weight="normal" fill="#333">Frame</text>
<text transform="translate(365.4 1256.5) rotate(-90)" text-anchor="middle" font-size="9.8" fill="#333" font-family="'DejaVu Sans','Liberation Sans',sans-serif">Frame</text>
<text x="494.4" y="1131.8" text-anchor="middle" font-size="9.6" font-family="'DejaVu Sans','Liberation Sans',sans-serif" font-weight="normal" fill="#333" textLength="82.2" lengthAdjust="spacingAndGlyphs">Joint 15 (Head 1)</text>
<rect x="619.1" y="1135.2" width="12.3" height="241.1" fill="url(#g2)"/>
<line x1="631.4" y1="1376.3" x2="633.9" y2="1376.3" stroke="#262626" stroke-width="0.8"/>
<text x="636.2" y="1376.3" font-size="8.6" fill="#262626" font-family="'DejaVu Sans','Liberation Sans',sans-serif" dominant-baseline="central">0.0</text>
<line x1="631.4" y1="1328.08" x2="633.9" y2="1328.08" stroke="#262626" stroke-width="0.8"/>
<text x="636.2" y="1328.08" font-size="8.6" fill="#262626" font-family="'DejaVu Sans','Liberation Sans',sans-serif" dominant-baseline="central">0.2</text>
<line x1="631.4" y1="1279.86" x2="633.9" y2="1279.86" stroke="#262626" stroke-width="0.8"/>
<text x="636.2" y="1279.86" font-size="8.6" fill="#262626" font-family="'DejaVu Sans','Liberation Sans',sans-serif" dominant-baseline="central">0.4</text>
<line x1="631.4" y1="1231.64" x2="633.9" y2="1231.64" stroke="#262626" stroke-width="0.8"/>
<text x="636.2" y="1231.64" font-size="8.6" fill="#262626" font-family="'DejaVu Sans','Liberation Sans',sans-serif" dominant-baseline="central">0.6</text>
<line x1="631.4" y1="1183.42" x2="633.9" y2="1183.42" stroke="#262626" stroke-width="0.8"/>
<text x="636.2" y="1183.42" font-size="8.6" fill="#262626" font-family="'DejaVu Sans','Liberation Sans',sans-serif" dominant-baseline="central">0.8</text>
<line x1="631.4" y1="1135.2" x2="633.9" y2="1135.2" stroke="#262626" stroke-width="0.8"/>
<text x="636.2" y="1135.2" font-size="8.6" fill="#262626" font-family="'DejaVu Sans','Liberation Sans',sans-serif" dominant-baseline="central">1.0</text>
<text x="502.6" y="1423.6" text-anchor="middle" font-size="13.6" font-family="'Liberation Serif','Times New Roman',serif" font-weight="bold" fill="#111" textLength="192.7" lengthAdjust="spacingAndGlyphs" stroke="#111" stroke-width="0.35">Temporal Self-Attention Weights</text>
<text x="353.1" y="1455.1" text-anchor="middle" font-size="22.5" font-family="'Liberation Serif','Times New Roman',serif" font-weight="bold" fill="#111" textLength="28.5" lengthAdjust="spacingAndGlyphs" stroke="#111" stroke-width="0.35">(b)</text>
</svg></body></html>
